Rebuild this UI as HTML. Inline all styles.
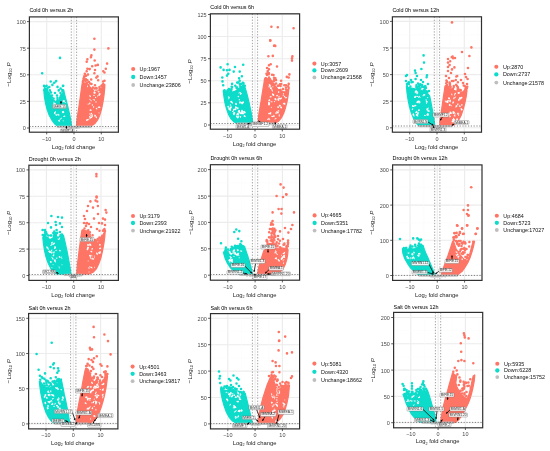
<!DOCTYPE html>
<html lang="en"><head><meta charset="utf-8"><title>Volcano plots</title>
<style>html,body{margin:0;padding:0;background:#fff}svg{display:block}</style></head>
<body>
<svg width="550" height="451" viewBox="0 0 550 451" font-family='"Liberation Sans", sans-serif'>
<rect width="550" height="451" fill="#fff"/>
<g>
<path d="M46.7 16.9V132.2M74 16.9V132.2M101.3 16.9V132.2M29.4 128H118.5M29.4 101.4H118.5M29.4 74.8H118.5M29.4 48.2H118.5M29.4 21.6H118.5" stroke="#ececec" stroke-width="1.1" fill="none"/>
<path d="M33 16.9V132.2M60.3 16.9V132.2M87.6 16.9V132.2M114.9 16.9V132.2M29.4 114.7H118.5M29.4 88.1H118.5M29.4 61.5H118.5M29.4 34.9H118.5" stroke="#fbfbfb" stroke-width="0.5" fill="none"/>
<path d="M73.1 127.4h0M73.2 127.5h0M70.7 127.6h0M77.9 127.5h0M77.6 127.6h0M75.4 127.6h0M68.2 127.2h0M75.7 127.4h0M68.1 126.8h0M70.9 127.4h0M75 127.7h0M75.8 127.4h0M75.1 127.5h0M71.7 126.8h0M75.9 127.1h0M71.8 127.3h0M72.8 127.6h0M76.2 127.6h0M72.4 127.2h0M72.2 127h0M71.2 127.6h0M75.5 126.9h0M74.1 127h0M66.9 127.5h0M73.6 127.3h0M75.7 127.7h0M68.9 127.3h0M76.3 127.2h0M79 127.5h0M74.4 127h0M76.1 127.4h0M72.4 127h0M70.6 127.4h0M78.5 126.6h0M68.9 127.6h0M79 127.4h0M67.3 126.3h0M75.2 127.3h0M70.1 127.2h0M77.8 127.6h0M74.8 127.5h0M79.5 127.4h0M75.8 127.4h0M68.5 127h0M77.3 127.4h0M67.1 127.4h0M76.9 126.7h0M73.3 127.1h0M69.4 126.8h0M75.9 127.6h0M75.1 127.3h0M74.4 127.1h0M71.7 127.5h0M77.6 127.7h0M70.9 127.2h0M79.1 127.5h0M69.2 127.6h0M73.5 127.5h0M78.9 127.1h0M78.4 127h0" stroke="#BEBEBE" stroke-width="2" stroke-linecap="round" fill="none"/>
<path d="M43.8 89.7L44.3 96.1L45.4 102.5L46.9 108.8L49.2 115.2L52 120.3L54.9 124.1L56.8 125.6L71.5 125.8L71.5 125L70.8 120.3L69.5 113.9L68 107.5L66.4 101.2L65.1 96.1L63.8 91L62.5 93.5L60.5 95L59 100L55 101.5L51.5 99L49.5 93L46 92Z" fill="#0DDCCA" stroke="#0DDCCA" stroke-width="1.2" stroke-linejoin="round"/>
<path d="M51.8 97.8h0M46.3 88.9h0M45.5 91.7h0M48.3 92.5h0M50.8 97.1h0M44.3 90.1h0M46.2 90.9h0M44.8 86.6h0M47.1 91.8h0M50.9 96h0M46.6 85.8h0M63.2 90.4h0M53.5 100.6h0M46.2 91h0M49.3 87h0M47.4 92.8h0M62.4 91.3h0M47.1 89.9h0M44.8 88.5h0M62.9 85.9h0M57.5 99.9h0M51.3 98.1h0" stroke="#0DDCCA" stroke-width="2.5" stroke-linecap="round" fill="none"/>
<path d="M60 57.9h0M42.2 73.2h0M50.7 81.5h0M56.2 81.1h0M54.3 82.7h0M52.4 84.9h0M44.1 85.9h0M63.2 85.7h0M47.7 87.8h0M57.5 86.9h0M60.6 88.5h0M45.4 90.4h0M49.8 90.4h0M58.7 90.4h0M62.5 90h0M55 93h0M57 95.5h0M60.5 93h0M52 95.5h0M53.5 98.5h0M57.5 98h0M51 92.5h0" stroke="#0DDCCA" stroke-width="2.6" stroke-linecap="round" fill="none"/>
<path d="M63.1 111.4h0M63.1 111.7h0M63.2 112h0M62.6 112h0M63.5 112.5h0M63 112.7h0M63.7 116.5h0M53.9 102.3h0M53.8 103.3h0M55.8 114.4h0M56.1 115.2h0M57.1 114.8h0M58 114.6h0M58.1 114.3h0M63.7 100.9h0M63.9 100.9h0M64.3 100.7h0M63.2 101.5h0M55.5 111.7h0M54.9 112.5h0M54.8 112.7h0M54.7 113.5h0M55.1 112.3h0M62.3 112h0M62.7 112.1h0M63.2 120.8h0M54.2 104.5h0M54.2 103.5h0M54.7 103.7h0M54.7 103.2h0M55.4 104.1h0M65.2 102.5h0M64.5 101.7h0M61.4 118.2h0M60.8 118.6h0M60.1 119.4h0M59.6 120.3h0M59.6 121.2h0M59 121.1h0M58.7 120.5h0" stroke="#fff" stroke-width="0.9" stroke-linecap="round" fill="none"/>
<path d="M63.6 112.2h0M64.6 116.3h0M56.6 115.1h0M58.8 115h0M63.3 101h0M63.8 101.4h0M63.7 101.5h0M54.7 113.6h0M54.6 112.9h0M53.5 104.4h0M55.1 103.7h0M63.8 101.2h0" stroke="#fff" stroke-width="1.4" stroke-linecap="round" fill="none"/>
<path d="M104.9 84.6L104.6 89.7L103.9 96.1L102.9 102.5L101.6 108.8L99.8 115.2L97.8 119.6L95 123.5L91.8 125.6L76.5 125.8L76.5 125L76.9 120.3L77.8 113.9L78.8 107.5L79.7 101.2L80.6 94.8L81.4 88.5L82.3 82.5L86 83L90 87L94 91L98 91L101 89L103 86Z" fill="#FE7566" stroke="#FE7566" stroke-width="1.2" stroke-linejoin="round"/>
<path d="M98.4 91.1h0M94.8 88.6h0M83.2 81.1h0M96.3 87.9h0M84.2 77.3h0M103.8 85.4h0M88.5 85.8h0M99.6 88.8h0M85.6 80.7h0M102.5 85.3h0M86 79.2h0M97.9 91h0M84 77.4h0M92 89.1h0M103.1 81.4h0M100.1 89.7h0M101.3 88.7h0M101.4 85.8h0M90.1 83.6h0M102.8 85.2h0M85.6 79.7h0M88 84.9h0M86.3 83.5h0M87.2 82.8h0" stroke="#FE7566" stroke-width="2.5" stroke-linecap="round" fill="none"/>
<path d="M94.4 38.8h0M94.4 49.6h0M108.4 48.4h0M91.4 55.4h0M90.9 57.3h0M87.4 59.2h0M86.7 61.7h0M94.7 60.5h0M107.1 63.6h0M95.6 65.5h0M97.8 64.9h0M92.2 66.2h0M87.4 68.7h0M89.7 69.1h0M105.8 68.7h0M95 70h0M86.7 71.3h0M103.3 71.3h0M104.5 72.5h0M94.4 73.2h0M84.8 73.8h0M88 74.5h0M84.2 76.4h0M86.1 75.7h0M97.5 76.4h0M96.3 77.6h0M91.2 79.5h0M98.2 80.2h0M104.5 80.8h0M87.4 80.2h0M83.5 78.9h0M82.9 81.5h0M103.3 84h0M95 85.3h0M102.6 85.9h0M103.9 87.2h0M89 82h0M91.5 84h0M93 87.5h0M85 80h0M99.5 87h0M96.5 88.5h0" stroke="#FE7566" stroke-width="2.6" stroke-linecap="round" fill="none"/>
<path d="M91.6 113.3h0M87.6 86.7h0M87.6 86h0M94.4 116h0M94.8 115.1h0M97.9 91h0M96.4 117.7h0M95.8 116.8h0M90.6 96.6h0M89.8 95.7h0M100.2 93.8h0M99.3 93.6h0M94.5 93.2h0M95 92.4h0M94.4 92.6h0M89.3 118.1h0M90 117.9h0M90.9 117.2h0M91.1 116.3h0M91.8 116.6h0M92.4 115.8h0M92.4 116.5h0M99.4 107h0M98.9 106.7h0M98.2 107.4h0M98.4 107.6h0M99 112.9h0M99.7 94.5h0M99.2 94.9h0M99.2 94.7h0M99.5 95.2h0M99.3 94.9h0M91 110.2h0M90.5 110.2h0M90.1 110.1h0M91 110.2h0M88.1 104.2h0M89 104h0M98.2 95.4h0M97.6 96.1h0M90.5 118.3h0M90.3 117.6h0M90.6 117.4h0M93.2 99.5h0M88.8 119.4h0M87.1 119.6h0M86.4 120.5h0M96.9 108.9h0M96.5 108.4h0M89.8 99.4h0M90.5 100.1h0M91.3 100.9h0" stroke="#fff" stroke-width="0.9" stroke-linecap="round" fill="none"/>
<path d="M91.5 113.7h0M95.3 115.7h0M98.8 91.7h0M96.4 117.2h0M90.1 96.1h0M94 92.8h0M99.7 107.4h0M99.7 94.4h0M99.4 93.9h0M90.3 110.1h0M89.8 103.2h0M87.9 119.8h0M87 120h0" stroke="#fff" stroke-width="1.4" stroke-linecap="round" fill="none"/>
<path d="M94.4 91h0M95 93h0M94 95.4h0M95.6 97.4h0M94.4 100h0M96 102h0M92.4 105h0M93.6 107h0M96.4 108.6h0M90 114h0M91 115.4h0M92.4 115h0M89.6 116.6h0M91.6 117.4h0" stroke="#fff" stroke-width="1.3" stroke-linecap="round" fill="none"/>
<path d="M57.8 126.8H90.8" stroke="#BEBEBE" stroke-width="2.3" stroke-linecap="round" opacity="0.92"/>
<path d="M71.3 16.9V132.2M76.6 16.9V132.2" stroke="#7a7a7a" stroke-width="0.7" stroke-dasharray="1.3 1.6" fill="none"/>
<path d="M29.4 126.5H118.5" stroke="#333" stroke-width="0.6" stroke-dasharray="1.2 1.6" fill="none"/>
<line x1="61" y1="104.4" x2="61" y2="101" stroke="#000" stroke-width="0.75"/>
<path d="M61 101L61.9 102.9L60.1 102.9Z" fill="#000"/>
<rect x="52.6" y="104.4" width="13.8" height="4.2" rx="0.6" fill="#fff" fill-opacity="0.95" stroke="#666" stroke-width="0.4"/>
<text x="59.5" y="107.5" font-size="3.2" text-anchor="middle" fill="#2b2b2b" textLength="12.2" lengthAdjust="spacingAndGlyphs">MtFIE.15</text>
<line x1="66.4" y1="129" x2="66.4" y2="126" stroke="#000" stroke-width="0.75"/>
<path d="M66.4 126L67.3 127.9L65.5 127.9Z" fill="#000"/>
<rect x="60.4" y="129" width="13.6" height="3.6" rx="0.6" fill="#fff" fill-opacity="0.95" stroke="#666" stroke-width="0.4"/>
<text x="67.2" y="131.9" font-size="3.2" text-anchor="middle" fill="#2b2b2b" textLength="12" lengthAdjust="spacingAndGlyphs">MtSWI1.A</text>
<rect x="29.4" y="16.9" width="89" height="115.3" fill="none" stroke="#303030" stroke-width="1.2"/>
<path d="M46.7 132.2v2.2M74 132.2v2.2M101.3 132.2v2.2M29.4 128h-2.4M29.4 101.4h-2.4M29.4 74.8h-2.4M29.4 48.2h-2.4M29.4 21.6h-2.4" stroke="#333" stroke-width="0.8" fill="none"/>
<g font-size="5.5" fill="#484848">
<text x="46.7" y="140.5" text-anchor="middle">−10</text><text x="74" y="140.5" text-anchor="middle">0</text><text x="101.3" y="140.5" text-anchor="middle">10</text><text x="25.8" y="130.4" text-anchor="end">0</text><text x="25.8" y="103.9" text-anchor="end">25</text><text x="25.8" y="77.2" text-anchor="end">50</text><text x="25.8" y="50.6" text-anchor="end">75</text><text x="25.8" y="24" text-anchor="end">100</text>
</g>
<text x="29.4" y="11.8" font-size="5.45" fill="#000">Cold 0h versus 2h</text>
<text x="73.5" y="148.6" font-size="5.85" fill="#222" text-anchor="middle">Log<tspan font-size="3.7" dy="1.2">2</tspan><tspan dy="-1.2"> fold change</tspan></text>
<text transform="translate(11.3 74.5) rotate(-90)" font-size="6.15" fill="#222" text-anchor="middle">−Log<tspan font-size="3.9" dy="0.8">10</tspan><tspan dy="-0.8" font-style="italic"> P</tspan></text>
<circle cx="133.2" cy="69" r="2.05" fill="#FE7566"/><text x="139.6" y="71" font-size="5.4" fill="#111">Up:1967</text>
<circle cx="133.2" cy="77" r="2.15" fill="#0DDCCA"/><text x="139.6" y="79" font-size="5.4" fill="#111">Down:1457</text>
<circle cx="133.2" cy="85" r="1.9" fill="#BEBEBE"/><text x="139.6" y="87" font-size="5.4" fill="#111">Unchange:23806</text>
</g>
<g>
<path d="M227.7 13.8V129.2M255 13.8V129.2M282.3 13.8V129.2M210.4 125H299.6M210.4 102.8H299.6M210.4 80.8H299.6M210.4 58.7H299.6M210.4 36.5H299.6M210.4 14.5H299.6" stroke="#ececec" stroke-width="1.1" fill="none"/>
<path d="M214.1 13.8V129.2M241.3 13.8V129.2M268.6 13.8V129.2M295.9 13.8V129.2M210.4 113.9H299.6M210.4 91.8H299.6M210.4 69.7H299.6M210.4 47.6H299.6M210.4 25.5H299.6" stroke="#fbfbfb" stroke-width="0.5" fill="none"/>
<path d="M254.8 124.5h0M254.6 124.1h0M255.1 123.9h0M254.8 124.5h0M256.6 124.5h0M251.8 124.6h0M253.3 123.8h0M257.7 124.6h0M253.4 124.3h0M251.7 124.5h0M256 124.4h0M257 123.5h0M252.5 124.6h0M264.8 123.6h0M253.2 124.6h0M255.5 124.4h0M254.2 124.5h0M255.2 124.2h0M248.4 124.2h0M255 124.1h0M251.3 124.3h0M252.7 124.3h0M257.6 124.5h0M256.8 124.6h0M250.1 124.6h0M256.6 124.4h0M254.7 124.2h0M251.9 124.3h0M261.5 124.4h0M255.5 124.6h0M260.4 124.5h0M258.1 124.3h0M254.9 124.6h0M248.8 123.9h0M258.1 123.7h0M257.6 124.6h0M256.6 124.5h0M249.8 124.5h0M260.2 124.3h0M251.4 123.9h0M250.7 124.5h0M260.9 124.4h0M255.9 123.4h0M253.2 124.3h0M256.8 124.4h0M251.5 124h0M256 124.5h0M250.4 124.5h0M253.1 124.4h0M254.6 124.6h0M253.8 124.1h0M259.9 124.5h0M258 124.2h0M255.3 124.2h0M260.3 124.4h0M254.7 124.5h0M249.8 124.6h0M252.6 124.4h0M251.1 123.6h0M255.1 124.5h0" stroke="#BEBEBE" stroke-width="2" stroke-linecap="round" fill="none"/>
<path d="M223.2 90.5L223.8 95.6L224.8 102L226.4 108.4L228.4 114.1L230.8 118.5L233.7 121.7L236.3 123L252.8 123.2L252.5 121.1L251.6 114.7L250.3 108.4L248.9 102L247.4 95.6L245.8 89.9L244.4 85.5L241 87L237 90L232 93L227 92Z" fill="#0DDCCA" stroke="#0DDCCA" stroke-width="1.2" stroke-linejoin="round"/>
<path d="M230.5 90h0M237.5 88.8h0M239.8 84.6h0M227.8 90.3h0M240.3 86.5h0M228.2 90.5h0M242.9 82.7h0M227.5 91.1h0M232.1 87h0M242.9 85.8h0M231.6 92h0M243.4 85.6h0M224.7 91.2h0M231.6 86.8h0M238.5 82.4h0M230.4 92h0M242.6 86.6h0M237.1 87.6h0M231.3 91h0M227.1 92.5h0M229.4 90.4h0M243 85.8h0M243.2 85.2h0" stroke="#0DDCCA" stroke-width="2.5" stroke-linecap="round" fill="none"/>
<path d="M220.6 67.4h0M227.6 64.2h0M235 67h0M243.2 64.8h0M223.6 69.9h0M227 70.3h0M229.5 69.9h0M233.7 71.6h0M239.7 71.6h0M228.3 73.7h0M227 75.6h0M241.9 76.3h0M222.3 77.5h0M239.1 78.2h0M222.5 81.4h0M239.7 80.7h0M237.2 82.6h0M232.1 83.9h0M241 83.9h0M243.5 83.3h0M223.2 85.2h0M235.3 85.8h0M244.8 85.8h0M228.9 89h0M231.5 89h0M236.5 87.7h0M242.3 88.4h0M224.5 90.3h0M227.6 90.9h0M239.1 90.9h0M234 92.2h0" stroke="#0DDCCA" stroke-width="2.6" stroke-linecap="round" fill="none"/>
<path d="M234.1 114.6h0M234.6 113.8h0M234.1 113.9h0M233.7 114.4h0M234 113.9h0M233.8 113.6h0M229.1 108.2h0M228.7 109.1h0M232.5 111.5h0M233.2 111.1h0M238.1 114.2h0M228.4 97h0M228.8 96.9h0M229.3 97.8h0M230.3 104.9h0M241.6 112.2h0M242.6 111.4h0M242.8 111.4h0M242.2 111.2h0M238.6 96.3h0M238.6 96.7h0M238.1 96.5h0M239.5 112.4h0M240 113h0M239.1 112h0M238.9 110.4h0M239 93h0M239.9 92.2h0M240.5 92.9h0M228.7 98.8h0M228.9 108h0M229 108.9h0M229.7 109.4h0M233.6 110.3h0M236.4 104.5h0M235.7 104.3h0M239.8 102.3h0M240.7 116.5h0M240.5 117.2h0M240.3 116.6h0M243.3 102.7h0M242.6 102.9h0M242.4 102.7h0M242.6 103.6h0M241.4 102.4h0M240.8 113.8h0M240.3 113h0M241.9 112.8h0M242.6 112.9h0M231.7 102h0M232.6 103h0M239.4 99.7h0M239.5 99.8h0M239.2 99.7h0M235.2 109.8h0M236.1 109.1h0M238.5 114.6h0M237.4 113.6h0M237.9 113.3h0M244.9 112h0M244.2 111.2h0M243.8 111.8h0M244.5 112.7h0M244.4 112.2h0M236.2 107.8h0M235.6 106.7h0M241.3 93.5h0M240.5 94.2h0M240.4 94.2h0M241.2 93.7h0M242.6 112.1h0M242.1 113.1h0M234.1 112.9h0M233.6 113.2h0M233.3 113.2h0M244.4 116.1h0M245.1 116.6h0M244.6 116.2h0M228.9 107h0M237.9 107.7h0M240 103.5h0M238.8 116.1h0M238.4 116.8h0M237.6 117.4h0M237.8 117.6h0M236.4 116h0M229.8 108.4h0M230.8 107.7h0M231.3 107h0M231 106.1h0M241.3 111.5h0" stroke="#fff" stroke-width="1.1" stroke-linecap="round" fill="none"/>
<path d="M234.4 112.8h0M242 111.5h0M242.2 111.3h0M242 110.5h0M239.6 112.5h0M238.6 111.5h0M239.3 110.9h0M229.7 108.8h0M230.2 109.7h0M230.3 109.9h0M230.1 109.2h0M233.8 109.5h0M236 103.5h0M240.1 102.1h0M243.1 102.1h0M242 103.3h0M241.1 113h0M242.1 113.4h0M243.2 113.5h0M231.1 101.7h0M231.9 102.3h0M235.2 109.1h0M237.9 114.5h0M237.3 114.4h0M237.2 114.4h0M237.9 113.6h0M244.2 112.3h0M244.8 112.5h0M236.2 107.4h0M235.9 107.5h0M244.5 115.9h0M244.5 116.1h0M228.2 106.7h0M237.7 108.3h0M237.8 117.5h0M236.9 116.7h0M230.6 107.7h0" stroke="#fff" stroke-width="1.7" stroke-linecap="round" fill="none"/>
<path d="M289.1 88L288.7 90.5L288.1 95.6L287.1 101.4L285.5 107.7L283.6 113.5L281.3 117.9L278.5 121.3L275.4 123L258.2 123.2L258.2 121.1L258.8 114.7L259.8 108.4L260.9 102L261.9 95.6L262.9 89.3L263.9 83.5L264.5 79.1L268 78.5L272 81L275 86L278 89.5L283 91.5L287 92Z" fill="#FE7566" stroke="#FE7566" stroke-width="1.2" stroke-linejoin="round"/>
<path d="M273.9 81.2h0M286.5 92h0M280.5 89.9h0M288.5 87.8h0M280.2 90.1h0M286 85.3h0M271.2 80.7h0M280 84.2h0M281.2 84h0M272 74.8h0M267 75h0M269 73.3h0M269.8 79.1h0M286.6 91.2h0M274.2 79.8h0M274 77.8h0M288.2 86.3h0M276.1 83.4h0M265.2 79.3h0M287.6 89.9h0M285.9 89.4h0M278.8 85.5h0M269 79.5h0M267.6 73.4h0M268.8 74.3h0M265.7 78.5h0M280.2 90.6h0" stroke="#FE7566" stroke-width="2.5" stroke-linecap="round" fill="none"/>
<path d="M270.3 40.6h0M274.1 45.7h0M275 45.7h0M268.4 56.3h0M272.8 55.9h0M270.7 64.2h0M269 65.2h0M277 66.5h0M267.1 68h0M269 69.3h0M267.7 71.2h0M268.4 73.3h0M266.5 73.7h0M273.5 75h0M289.4 74.4h0M286.8 76.9h0M288.7 77.5h0M269 77.5h0M275.4 78.2h0M265.8 78.2h0M276 80.1h0M281.1 80.7h0M288.7 83.9h0M274.7 84.5h0M284.3 85.2h0M277.9 85.8h0M283 89h0M276 87.7h0M278.5 90.3h0M292.4 56.4h0M292 58.4h0M292 60.6h0M286 87.5h0M280.5 86h0" stroke="#FE7566" stroke-width="2.6" stroke-linecap="round" fill="none"/>
<path d="M271.4 26.8h0M277.8 27.2h0M293.6 28.2h0M270.2 40.4h0M274.2 45.8h0M275.2 46h0" stroke="#FE7566" stroke-width="2.6" stroke-linecap="round" fill="none"/>
<path d="M269.2 84.8h0M269.3 84.5h0M270.6 86.1h0M269 86.2h0M269.2 86.9h0M272.9 86.8h0M281.5 107.6h0M272.4 93.7h0M272.8 94.6h0M273.5 94.3h0M268.8 104.5h0M269.5 103.7h0M269.3 103.6h0M271.1 101.8h0M272 101.8h0M270.7 114h0M270.2 113.3h0M270.7 113.3h0M270.8 112.5h0M270.1 113.4h0M280.7 99h0M280.5 98.5h0M281.2 97.9h0M281.3 98.4h0M279 96.2h0M279 97h0M277.4 95.3h0M277.3 95.8h0M276.6 95.8h0M272 90.3h0M272.5 90.9h0M280.3 105.9h0M269.7 119.6h0M271.3 88.7h0M271.9 89.2h0M271.3 107.2h0M272.8 116.6h0M271.9 116.4h0M272.3 116.4h0M278.3 98.4h0M277.8 99.1h0M278 99.4h0M278.3 99.7h0M271.1 87.7h0M270.6 88.5h0M278.7 92.5h0M278.7 91.5h0M278.7 91.9h0M283.2 95.5h0M274.6 101.6h0M268.6 103.6h0M273.9 115.2h0M274 115.6h0M274.2 116.3h0M275 119h0M275.9 118.4h0M278.4 107.2h0M275.1 99h0M275.1 98.9h0M275.9 99.9h0M275.9 99.3h0M269.2 113.3h0M284.4 96.4h0M285 97h0M285.9 97.5h0M286.4 97.5h0M285.9 97.9h0M276.2 113.6h0M275.8 113.1h0M275.8 113h0M276 112.7h0M276.7 111.8h0M268.2 119.2h0M267.8 119.4h0M268.5 118.8h0M269 118.2h0M269 118.4h0M283.3 103.8h0M283.9 103.2h0M284 103.7h0M284.2 103.1h0M269 100.7h0M278.2 110.9h0M278.8 110.9h0M279.3 114.9h0M279.2 115.9h0M271.1 96.7h0M270.2 96.9h0M271 96.6h0M271 96.5h0M270.2 97h0M273.8 115.7h0M273.5 116.3h0M283.5 93.8h0M283.4 93.9h0" stroke="#fff" stroke-width="1.1" stroke-linecap="round" fill="none"/>
<path d="M269.9 85.3h0M269.8 85.5h0M281.1 107.4h0M273 94.5h0M273.5 95.1h0M268.9 102.7h0M269.3 103.7h0M279.8 98.5h0M279.7 105.6h0M278.5 99.9h0M270.7 88h0M269 104.6h0M278 107h0M275.4 99.1h0M269.1 113.5h0M277.4 112.4h0M278 112.6h0M284.7 103.8h0M269.4 100.2h0" stroke="#fff" stroke-width="1.7" stroke-linecap="round" fill="none"/>
<path d="M237.3 123.7H274.4" stroke="#BEBEBE" stroke-width="2.3" stroke-linecap="round" opacity="0.92"/>
<path d="M252.4 13.8V129.2M257.6 13.8V129.2" stroke="#7a7a7a" stroke-width="0.7" stroke-dasharray="1.3 1.6" fill="none"/>
<path d="M210.4 123.5H299.6" stroke="#333" stroke-width="0.6" stroke-dasharray="1.2 1.6" fill="none"/>
<line x1="247.6" y1="124.8" x2="249.6" y2="122.8" stroke="#000" stroke-width="0.75"/>
<path d="M249.6 122.8L248.9 124.8L247.6 123.5Z" fill="#000"/>
<rect x="236" y="124.8" width="14" height="3.6" rx="0.6" fill="#fff" fill-opacity="0.95" stroke="#666" stroke-width="0.4"/>
<text x="243" y="127.6" font-size="3.2" text-anchor="middle" fill="#2b2b2b" textLength="12.4" lengthAdjust="spacingAndGlyphs">MtSWI1.A</text>
<line x1="275.6" y1="124.8" x2="275" y2="122.2" stroke="#000" stroke-width="0.75"/>
<path d="M275 122.2L276.3 123.8L274.6 124.3Z" fill="#000"/>
<rect x="272.4" y="124.8" width="14.6" height="3.6" rx="0.6" fill="#fff" fill-opacity="0.95" stroke="#666" stroke-width="0.4"/>
<text x="279.7" y="127.6" font-size="3.2" text-anchor="middle" fill="#2b2b2b" textLength="13" lengthAdjust="spacingAndGlyphs">MtMEA.1</text>
<line x1="260" y1="122" x2="258.4" y2="120.8" stroke="#000" stroke-width="0.75"/>
<path d="M258.4 120.8L260.5 121.2L259.4 122.7Z" fill="#000"/>
<rect x="251.6" y="122" width="17.4" height="4.4" rx="0.6" fill="#fff" fill-opacity="0.95" stroke="#666" stroke-width="0.4"/>
<text x="260.3" y="125.2" font-size="3.2" text-anchor="middle" fill="#2b2b2b" textLength="15.8" lengthAdjust="spacingAndGlyphs">MtEMF1.2</text>
<rect x="210.4" y="13.8" width="89.2" height="115.4" fill="none" stroke="#303030" stroke-width="1.2"/>
<path d="M227.7 129.2v2.2M255 129.2v2.2M282.3 129.2v2.2M210.4 125h-2.4M210.4 102.8h-2.4M210.4 80.8h-2.4M210.4 58.7h-2.4M210.4 36.5h-2.4M210.4 14.5h-2.4" stroke="#333" stroke-width="0.8" fill="none"/>
<g font-size="5.5" fill="#484848">
<text x="227.7" y="137.5" text-anchor="middle">−10</text><text x="255" y="137.5" text-anchor="middle">0</text><text x="282.3" y="137.5" text-anchor="middle">10</text><text x="206.7" y="127.4" text-anchor="end">0</text><text x="206.7" y="105.3" text-anchor="end">25</text><text x="206.7" y="83.2" text-anchor="end">50</text><text x="206.7" y="61.1" text-anchor="end">75</text><text x="206.7" y="39" text-anchor="end">100</text><text x="206.7" y="16.9" text-anchor="end">125</text>
</g>
<text x="210.3" y="8.7" font-size="5.45" fill="#000">Cold 0h versus 6h</text>
<text x="254.5" y="145.6" font-size="5.85" fill="#222" text-anchor="middle">Log<tspan font-size="3.7" dy="1.2">2</tspan><tspan dy="-1.2"> fold change</tspan></text>
<text transform="translate(192.3 71.5) rotate(-90)" font-size="6.15" fill="#222" text-anchor="middle">−Log<tspan font-size="3.9" dy="0.8">10</tspan><tspan dy="-0.8" font-style="italic"> P</tspan></text>
<circle cx="314.4" cy="63.6" r="2.05" fill="#FE7566"/><text x="320.8" y="65.5" font-size="5.4" fill="#111">Up:3057</text>
<circle cx="314.4" cy="70.4" r="2.15" fill="#0DDCCA"/><text x="320.8" y="72.4" font-size="5.4" fill="#111">Down:2609</text>
<circle cx="314.4" cy="77.4" r="1.9" fill="#BEBEBE"/><text x="320.8" y="79.4" font-size="5.4" fill="#111">Unchange:21568</text>
</g>
<g>
<path d="M409.7 16.8V132.2M437 16.8V132.2M464.3 16.8V132.2M392.4 127.8H481.5M392.4 101.2H481.5M392.4 74.6H481.5M392.4 48H481.5M392.4 21.4H481.5" stroke="#ececec" stroke-width="1.1" fill="none"/>
<path d="M396 16.8V132.2M423.3 16.8V132.2M450.6 16.8V132.2M477.9 16.8V132.2M392.4 114.5H481.5M392.4 87.9H481.5M392.4 61.3H481.5M392.4 34.7H481.5" stroke="#fbfbfb" stroke-width="0.5" fill="none"/>
<path d="M435.2 126.2h0M433.6 126.8h0M436.4 126.6h0M442 127.1h0M437.8 126.7h0M435.8 126.8h0M432.7 126.8h0M437.2 127h0M435.7 126.1h0M435.9 127.2h0M436.9 127.1h0M439.9 126.1h0M433 126.7h0M438.8 126.1h0M433.3 126.7h0M433.2 126.6h0M432.6 126.7h0M438.2 126.4h0M431.3 127h0M438.8 127h0M442.8 127h0M441.4 126.8h0M432.6 126.5h0M438 126.5h0M436.8 126.7h0M434.3 127h0M432.4 126.9h0M438 127.1h0M436.1 127.1h0M441.7 126.5h0M430 126.6h0M436.4 127.2h0M433.4 126.7h0M446.1 126.6h0M433.4 127.1h0M441 126.7h0M437.4 126.9h0M437.3 127.2h0M436.3 126.9h0M438.4 127.2h0M438.2 127h0M442.5 127.1h0M437.3 126.3h0M437.4 127h0M437.8 126.4h0M440.5 126.5h0M441.2 126.8h0M436 126.6h0M439.4 127h0M442.4 127h0M437.6 127.2h0M433.2 126.4h0M439.6 127h0M436.7 126.9h0M439.6 126.7h0M440.1 127h0M433.6 126.9h0M436.1 126.9h0M437.9 126.7h0M434 126.6h0" stroke="#BEBEBE" stroke-width="2" stroke-linecap="round" fill="none"/>
<path d="M406.5 87.2L407.1 93.5L408.1 99.9L409.4 106.3L411.2 112.6L413.5 118.4L416 122.8L418.5 125.4L434.8 125.6L434.5 122.8L433.6 116.5L432.3 109.5L431 102.5L429.7 96.1L428 94L425 92L420 89.8L415 88.8L410 87.8Z" fill="#0DDCCA" stroke="#0DDCCA" stroke-width="1.2" stroke-linejoin="round"/>
<path d="M416.3 87.1h0M424.5 86.4h0M419.6 88.5h0M408.3 82.7h0M425.4 90.7h0M420.4 84.3h0M420.3 88.6h0M416.5 86.8h0M422.2 86.7h0M426.9 91.6h0M407 86.3h0M416.4 85.2h0M425.1 92.3h0M425.5 86.3h0M419.7 88.6h0M425.9 88h0M427.3 91.9h0M408.9 84.1h0M424.7 91.3h0M423.7 90.2h0M420.5 84.8h0M417.3 88.6h0M412.7 81.9h0M424.6 89.2h0M408.9 82.3h0" stroke="#0DDCCA" stroke-width="2.5" stroke-linecap="round" fill="none"/>
<path d="M411.4 82.2h0M426.6 77.2h0M418 83.6h0M419.6 86.5h0M410.4 86.6h0M422.1 85h0M419 84.5h0M417.9 86.8h0M407 75.1h0" stroke="#0DDCCA" stroke-width="2.5" stroke-linecap="round" fill="none"/>
<path d="M423.6 55.4h0M424 62.6h0M421.4 69h0M415 70.6h0M415.6 73h0M406 76h0M417 76h0M427 75.4h0M411 80h0M415.6 79h0M406 81h0M421 80h0M428 84h0M423 82h0M407 84h0M424 87h0M429 91h0" stroke="#0DDCCA" stroke-width="2.6" stroke-linecap="round" fill="none"/>
<path d="M417.7 92.9h0M417.7 92h0M416.8 91.6h0M416.1 91h0M427.7 97.6h0M428 110.7h0M428.2 110h0M427.9 111h0M427.1 110h0M427.5 110h0M428.2 110.7h0M416.7 96.3h0M428.2 108.1h0M427.6 108.8h0M428 115.4h0M427.2 114.4h0M428 113.9h0M428.4 114.5h0M427.2 114.6h0M427.1 114.9h0M426.8 114.7h0M417.8 101.9h0M418.4 101.1h0M418.9 101.1h0M419.5 101.3h0M417.1 112.2h0M416.4 112h0M416.8 111.3h0M427 101.9h0M415.9 112.7h0M419.2 103h0M420.1 102.1h0M423 95.7h0M423.6 94.9h0M415.3 96.4h0M415.3 96.8h0M417.1 93.8h0M425.2 115.5h0M424.6 115.3h0M414.9 105.4h0M414.2 106.2h0M413.4 106.4h0M413 105.8h0M413.4 106.5h0M412.8 105.6h0M413.2 105.7h0M426.6 103.3h0M418.4 110.6h0M426 99.9h0M426.3 100.1h0M417.4 115.2h0M417.2 115.7h0M417.9 115.9h0M416.2 92.9h0M416.2 92.9h0M416.3 92h0M412.7 108.9h0M412.3 109.5h0M419.4 96.4h0M418.6 97.2h0M417.8 96.4h0M420 97.5h0M413.2 113.9h0M414.1 116h0M418.6 112.7h0M417.5 113.4h0M417.9 114.1h0" stroke="#fff" stroke-width="1.1" stroke-linecap="round" fill="none"/>
<path d="M416.2 91.2h0M428.9 111.1h0M427.2 109.2h0M427.7 114.1h0M417.2 102.3h0M417.6 101.7h0M419 101.9h0M426.6 101.7h0M416.4 112.2h0M424.5 94.8h0M414.9 97.2h0M415.5 105.5h0M412.7 106h0M419 110.1h0M416.6 114.9h0M415.8 91.3h0M415.4 92h0M413.4 114.6h0M413.5 115.1h0M417.7 113.6h0" stroke="#fff" stroke-width="1.7" stroke-linecap="round" fill="none"/>
<path d="M466.9 91L466.3 96.1L465 102.5L463.3 108.8L461.2 115.2L458.6 120.3L455.5 123.8L452.3 125.6L439.8 125.8L439.8 122.8L440.6 116.5L441.6 109.5L442.6 102.5L443.5 96.1L444.3 91L444.9 87.2L448 87.5L452 89.5L457 91.5L462 92L465 91Z" fill="#FE7566" stroke="#FE7566" stroke-width="1.2" stroke-linejoin="round"/>
<path d="M466.1 89.2h0M453.8 85.9h0M452.2 89.2h0M459.7 89.7h0M463.7 85.6h0M445.6 87.1h0M449.3 86.4h0M449.6 82.4h0M450.1 85.9h0M453.7 87.3h0M446.4 80.5h0M446.2 83.2h0M464.7 85.9h0M458.6 91.9h0M447.5 87.2h0M445.7 86.2h0M446.2 87.1h0M452.7 89.2h0M446.7 81h0M464.3 91.2h0M457.8 88.8h0M456.1 84.8h0M457.5 90.2h0M460.9 90.2h0" stroke="#FE7566" stroke-width="2.5" stroke-linecap="round" fill="none"/>
<path d="M455.8 80h0M450.6 86.9h0M457.9 87.3h0M465.6 88.4h0M456.3 76.6h0M446.3 87.9h0M449.8 83.7h0M467.3 86.8h0M466.3 90.3h0M466.9 88h0M452.9 88.9h0M465.3 89.6h0M446.9 91.4h0M457.9 82.2h0M453.4 81h0M457.2 76.1h0M450.2 61.2h0M451.7 57.2h0M453.1 58.2h0" stroke="#FE7566" stroke-width="2.5" stroke-linecap="round" fill="none"/>
<path d="M471.4 47.4h0M462 52h0M469.4 56h0M452.6 56.6h0M455 58h0M448 59h0M448 62.6h0M449.6 65h0M448 67h0M454.4 67.4h0M452 69.4h0M468 68h0M448 71h0M451 73h0M465 74h0M446 76h0M449 78h0M466 77h0M467.6 79h0M461 80h0M452 81h0M447 82h0M463 83h0M467 84h0M450 84h0M457 86h0M466 87h0M447 85h0" stroke="#FE7566" stroke-width="2.6" stroke-linecap="round" fill="none"/>
<path d="M452 22.4h0" stroke="#FE7566" stroke-width="2.6" stroke-linecap="round" fill="none"/>
<path d="M454.7 113h0M455 113.3h0M461.1 108.5h0M461.8 109.4h0M461.4 109.6h0M454.4 122.8h0M454.2 123.4h0M457.7 104.4h0M458.1 104h0M457.8 104h0M458.4 93.2h0M459 93.2h0M459.3 92.6h0M451.3 105.8h0M448.4 100.7h0M448 100.8h0M448.3 100.6h0M459.6 105.9h0M459.4 106.1h0M460.2 106.4h0M449.6 104.2h0M449.3 104.9h0M457.4 113.7h0M458 113.1h0M458.8 113.7h0M458.1 114.5h0M458.7 115.5h0M454.7 97.7h0M455.3 97.1h0M454.6 94.8h0M454.8 94.5h0M455 93.6h0M455.5 93.2h0M448.1 102.1h0M446.8 101.7h0M447.4 102.5h0M446.8 101.9h0M446.1 101.9h0M445.3 101.1h0M455.8 107h0M456.9 105.8h0M453.7 98.1h0M453.9 98.8h0M449 98.7h0M448.8 97.9h0M449 98.8h0M453 120h0M454 121.1h0M453.8 120.9h0M462.1 104.9h0M461.4 104.9h0M454.5 95h0M454.8 120.4h0M453.8 118.8h0M453.5 118.2h0M449.5 101.1h0M450 101.2h0M450.5 100.7h0M450 100.5h0M450.2 100.1h0M449.6 100.8h0M450.4 101.8h0M455 122.7h0M455.3 122.2h0M455.3 121.7h0M454.2 112.7h0M453.5 111.8h0M460.1 98.8h0M460.2 97.8h0M460.9 98.4h0M448.5 113.4h0M449.2 114.1h0M448.6 114.5h0M451.5 113.3h0M453 112.1h0M453.1 111.6h0M456.3 120.8h0M456.9 120.1h0M449.8 116.7h0M450.3 116.4h0M454.7 115.3h0M454.9 114.8h0M454.6 115.7h0M454.3 115.7h0M454.9 115.9h0M458.8 99.2h0M459.3 99.1h0M459.9 98.6h0M460.7 98.9h0M452 94.8h0M451.7 94h0M450.2 113.6h0M450.5 113h0M453.6 102h0M453 102.1h0M453.5 102.2h0M453 102.5h0M452.9 103.1h0" stroke="#fff" stroke-width="1.1" stroke-linecap="round" fill="none"/>
<path d="M461.7 109.5h0M461.6 109.6h0M458.4 92.8h0M458.6 93h0M449.9 105.1h0M447.3 101.2h0M456.4 106.1h0M449.2 98.3h0M453 119.8h0M453.7 120.8h0M453 121.6h0M452.4 121.4h0M454.3 119.8h0M454.6 122.9h0M453.9 112.3h0M453.3 113.1h0M459.8 98.2h0M461.6 97.6h0M448.8 114.2h0M449 114.9h0M450.7 112.6h0M450.3 112.4h0M456.7 120.5h0M457.1 119.2h0M458.8 100h0M450.5 113.1h0" stroke="#fff" stroke-width="1.7" stroke-linecap="round" fill="none"/>
<path d="M419.5 126.2H451.3" stroke="#BEBEBE" stroke-width="2.3" stroke-linecap="round" opacity="0.92"/>
<path d="M434.3 16.8V132.2M439.6 16.8V132.2" stroke="#7a7a7a" stroke-width="0.7" stroke-dasharray="1.3 1.6" fill="none"/>
<path d="M392.4 126H481.5" stroke="#333" stroke-width="0.6" stroke-dasharray="1.2 1.6" fill="none"/>
<line x1="442.4" y1="117" x2="440" y2="120.6" stroke="#000" stroke-width="0.75"/>
<path d="M440 120.6L440.3 118.5L441.8 119.5Z" fill="#000"/>
<rect x="433" y="113" width="15.6" height="4" rx="0.6" fill="#fff" fill-opacity="0.95" stroke="#666" stroke-width="0.4"/>
<text x="440.8" y="116" font-size="3.2" text-anchor="middle" fill="#2b2b2b" textLength="14" lengthAdjust="spacingAndGlyphs">MtEMF1.2</text>
<line x1="428" y1="122" x2="433.6" y2="125.4" stroke="#000" stroke-width="0.75"/>
<path d="M433.6 125.4L431.5 125.2L432.4 123.6Z" fill="#000"/>
<rect x="413" y="119.6" width="15" height="3.8" rx="0.6" fill="#fff" fill-opacity="0.95" stroke="#666" stroke-width="0.4"/>
<text x="420.5" y="122.5" font-size="3.2" text-anchor="middle" fill="#2b2b2b" textLength="13.4" lengthAdjust="spacingAndGlyphs">MtVRN1.N</text>
<line x1="454.8" y1="123.4" x2="452" y2="125.4" stroke="#000" stroke-width="0.75"/>
<path d="M452 125.4L453 123.6L454.1 125Z" fill="#000"/>
<rect x="454.4" y="120.6" width="14.6" height="3.6" rx="0.6" fill="#fff" fill-opacity="0.95" stroke="#666" stroke-width="0.4"/>
<text x="461.7" y="123.5" font-size="3.2" text-anchor="middle" fill="#2b2b2b" textLength="13" lengthAdjust="spacingAndGlyphs">MtMEA.1</text>
<line x1="433.6" y1="128" x2="433.6" y2="126" stroke="#000" stroke-width="0.75"/>
<path d="M433.6 126L434.5 127.9L432.7 127.9Z" fill="#000"/>
<rect x="430" y="128" width="16" height="4" rx="0.6" fill="#fff" fill-opacity="0.95" stroke="#666" stroke-width="0.4"/>
<text x="438" y="131.1" font-size="3.2" text-anchor="middle" fill="#2b2b2b" textLength="14.4" lengthAdjust="spacingAndGlyphs">MtVRN1.3</text>
<rect x="392.4" y="16.8" width="89.1" height="115.4" fill="none" stroke="#303030" stroke-width="1.2"/>
<path d="M409.7 132.2v2.2M437 132.2v2.2M464.3 132.2v2.2M392.4 127.8h-2.4M392.4 101.2h-2.4M392.4 74.6h-2.4M392.4 48h-2.4M392.4 21.4h-2.4" stroke="#333" stroke-width="0.8" fill="none"/>
<g font-size="5.5" fill="#484848">
<text x="409.7" y="140.5" text-anchor="middle">−10</text><text x="437" y="140.5" text-anchor="middle">0</text><text x="464.3" y="140.5" text-anchor="middle">10</text><text x="388.8" y="130.3" text-anchor="end">0</text><text x="388.8" y="103.7" text-anchor="end">25</text><text x="388.8" y="77.1" text-anchor="end">50</text><text x="388.8" y="50.5" text-anchor="end">75</text><text x="388.8" y="23.9" text-anchor="end">100</text>
</g>
<text x="392.4" y="12" font-size="5.45" fill="#000">Cold 0h versus 12h</text>
<text x="436.5" y="148.6" font-size="5.85" fill="#222" text-anchor="middle">Log<tspan font-size="3.7" dy="1.2">2</tspan><tspan dy="-1.2"> fold change</tspan></text>
<text transform="translate(374.3 74.5) rotate(-90)" font-size="6.15" fill="#222" text-anchor="middle">−Log<tspan font-size="3.9" dy="0.8">10</tspan><tspan dy="-0.8" font-style="italic"> P</tspan></text>
<circle cx="496.3" cy="66.7" r="2.05" fill="#FE7566"/><text x="502.9" y="68.7" font-size="5.4" fill="#111">Up:2870</text>
<circle cx="496.3" cy="74.4" r="2.15" fill="#0DDCCA"/><text x="502.9" y="76.4" font-size="5.4" fill="#111">Down:2737</text>
<circle cx="496.3" cy="82.6" r="1.9" fill="#BEBEBE"/><text x="502.9" y="84.5" font-size="5.4" fill="#111">Unchange:21578</text>
</g>
<g>
<path d="M46.4 165.2V280.4M73.7 165.2V280.4M101 165.2V280.4M28.9 275.5H118.4M28.9 249.1H118.4M28.9 222.7H118.4M28.9 196.3H118.4M28.9 169.9H118.4" stroke="#ececec" stroke-width="1.1" fill="none"/>
<path d="M32.7 165.2V280.4M60 165.2V280.4M87.3 165.2V280.4M114.6 165.2V280.4M28.9 262.3H118.4M28.9 235.9H118.4M28.9 209.5H118.4M28.9 183.1H118.4" stroke="#fbfbfb" stroke-width="0.5" fill="none"/>
<path d="M75.8 275.4h0M72.1 275.4h0M76.3 275.5h0M75.4 274.9h0M72 275.6h0M71.9 275.2h0M72.3 275.5h0M74.1 275.7h0M79.5 275.7h0M78.4 275.3h0M78.1 275.6h0M76.8 275.3h0M71.6 275.6h0M73.2 275.7h0M78 275.3h0M68 274.8h0M72.1 275.4h0M73.7 275.4h0M79.6 275.5h0M75.2 275.3h0M75.6 275h0M78.2 274.7h0M76.7 274.9h0M76.4 274.9h0M72.6 275.4h0M75 275.3h0M70.7 275.2h0M69.2 275h0M73.7 275.5h0M69.2 275.4h0M76 274.9h0M80.6 275h0M69.5 275.7h0M75.3 275.3h0M72.4 275.6h0M72.9 275.4h0M65 275.2h0M74.5 275.6h0M71.5 275.6h0M73.6 275.7h0M77.4 274.8h0M74.5 275.1h0M72.6 274.9h0M70 275.6h0M71.7 275.2h0M70.4 274.8h0M75.4 275.5h0M72.6 275.1h0M70.7 275.5h0M74.1 275.5h0M71.9 275.2h0M81.2 275.5h0M79.9 274.6h0M78.4 275.5h0M74.1 275.5h0M71.5 275h0M72.3 275h0M77.5 275.5h0M71.9 275.3h0M69.6 274.8h0" stroke="#BEBEBE" stroke-width="2" stroke-linecap="round" fill="none"/>
<path d="M42.8 237.7L43.5 244.1L44.5 250.5L46 256.8L48.2 263.2L51.1 268.9L54.3 272.7L56.8 274L70.8 274.2L70.6 270.8L69.5 264.5L68.3 257.5L66.9 250.5L65.5 244.1L64.2 238.4L63.2 235.2L61.5 236L59.5 241.5L57.5 241L56 233.5L54.5 232.5L53 238L50 239.5L46 237Z" fill="#0DDCCA" stroke="#0DDCCA" stroke-width="1.2" stroke-linejoin="round"/>
<path d="M43.8 236.9h0M56.5 233.4h0M45 232.3h0M50.5 235.4h0M51.4 235.5h0M54.3 231.4h0M45.5 236.6h0M60.6 235.1h0M45.5 235.7h0M45.1 233.9h0M48.2 235.5h0M54 233.4h0M54.4 232.7h0M53.3 233.1h0M44.9 235.1h0M44.7 234.9h0M60.1 236.5h0M57.2 232.7h0M45.5 232.2h0M45.3 234.7h0M46.6 233.7h0M58.3 241h0" stroke="#0DDCCA" stroke-width="2.5" stroke-linecap="round" fill="none"/>
<path d="M59.5 240.9h0M47.6 238.1h0M42.7 234.9h0M47.1 239h0M58 237.4h0M61.9 234.5h0M61.6 235.4h0M46.1 232.3h0" stroke="#0DDCCA" stroke-width="2.5" stroke-linecap="round" fill="none"/>
<path d="M51.4 216h0M58 217h0M62 217.6h0M48 223h0M55.6 222h0M60 223.4h0M56 225h0M51 227.4h0M62 227h0M42.6 230h0M45 230h0M56.6 230h0M43.6 235h0M55 233h0M60 232h0M63 236h0" stroke="#0DDCCA" stroke-width="2.6" stroke-linecap="round" fill="none"/>
<path d="M51.5 262.1h0M50.7 261.7h0M50.7 262.3h0M50.4 261.9h0M49.8 251.9h0M49.7 252.5h0M49.6 250.9h0M49.2 251.3h0M55 260.2h0M55.4 260.1h0M54.8 261.1h0M55.4 262h0M55.3 261.5h0M54.6 252h0M54.1 252.8h0M53.3 252.2h0M53.2 252.3h0M51.8 243.1h0M52.4 242.8h0M52.8 242.1h0M51.8 257.3h0M52.7 258.9h0M53.2 259.1h0M51.9 250h0M50.7 251.6h0M51.1 252.7h0M51.5 253h0M52 253h0M59.7 267.9h0M59 266.9h0M53.5 254.1h0M54 255h0M53.5 255.8h0M46.9 247.8h0M55.8 250.6h0M56.7 250.3h0M53.1 264.7h0M60.2 251h0M48.5 249.7h0M47.6 248.8h0M48.3 248.4h0M59.8 257.4h0M59.2 256.8h0M59.8 257h0M59.3 256.7h0M59.6 256.5h0M51.5 244.4h0M52 243.6h0M52.5 244.6h0M62 264.8h0M61.7 257.1h0M60.9 257.3h0M51.3 245.3h0M50.8 245.4h0M51.8 252h0M51.9 252.2h0M57 258h0M56.6 258.3h0M53.9 243.8h0M53.6 244.3h0M53.5 243.9h0M54.2 243.5h0M51.9 267.7h0M61.9 258.6h0M55.3 247.5h0" stroke="#fff" stroke-width="0.9" stroke-linecap="round" fill="none"/>
<path d="M50.7 261.6h0M49 251.6h0M54.6 260.1h0M54.6 260.8h0M51.7 242.6h0M52.6 258.3h0M51.4 250.6h0M50.4 252.3h0M53.3 255.4h0M59.8 250.5h0M47.6 247.8h0M46.9 246.9h0M54.3 243.2h0M55 246.8h0M55.4 247.7h0M54.6 248.2h0" stroke="#fff" stroke-width="1.4" stroke-linecap="round" fill="none"/>
<path d="M105.3 230.1L104.8 236.5L103.9 243.5L102.6 250.5L101 257.5L98.8 263.8L96.3 268.9L93.1 272.3L89.3 274L76.8 274.2L76.8 272.1L77.3 265.7L78.1 258.7L79 251.7L79.9 244.7L80.7 238.4L81.5 232.6L82 230.1L85 230.5L88 232L91 237L95 242L98 243L101 241L103 235Z" fill="#FE7566" stroke="#FE7566" stroke-width="1.2" stroke-linejoin="round"/>
<path d="M104.4 229h0M96.7 241h0M100.4 238.9h0M89.7 234.6h0M98.9 242.6h0M96.9 240.6h0M101.8 238.9h0M95.1 239.9h0M103 230.8h0M87.5 230.8h0M88.3 230.2h0M87.7 231.2h0M99.4 237.4h0M89.2 232.8h0M95.2 241.7h0M101.7 237.3h0M99.3 240.5h0M89.9 232.3h0M102.4 236.5h0M97.7 238.9h0M92.6 235.2h0M102.2 236.8h0M102.2 235.7h0M99.9 240.9h0M101.8 237h0" stroke="#FE7566" stroke-width="2.5" stroke-linecap="round" fill="none"/>
<path d="M83 230.6h0M105 231h0M103.5 230.3h0M99.5 230.7h0M86.3 223.4h0M84.5 228.5h0M97.9 206h0M97.3 201.4h0" stroke="#FE7566" stroke-width="2.5" stroke-linecap="round" fill="none"/>
<path d="M96.6 196.6h0M90.4 201.4h0M95.6 200.6h0M88 206h0M93 207.6h0M87 211h0M105.6 210h0M106.4 212.6h0M98 214h0M84 216h0M85 219h0M94 218.6h0M103 218.6h0M105 219.6h0M87 223h0M89 224h0M99 223h0M102 223.4h0M105 225h0M91 227h0M97 229h0M86 226h0M84 223h0" stroke="#FE7566" stroke-width="2.6" stroke-linecap="round" fill="none"/>
<path d="M96.4 174h0M96.4 176.2h0M96.6 197.4h0" stroke="#FE7566" stroke-width="2.6" stroke-linecap="round" fill="none"/>
<path d="M87.5 249.8h0M87.9 249h0M88.3 248.1h0M87.5 247.3h0M87.8 247.4h0M94.4 267.3h0M91.9 249.2h0M90.7 245h0M89.8 244.4h0M90.2 244.4h0M90.3 244.8h0M91 245.2h0M90.6 245.1h0M90.4 244.8h0M89 272h0M90.3 257.5h0M90.7 258h0M88.2 261h0M99.7 244.4h0M99.8 244.8h0M100.1 244.7h0M100.1 245h0M99.8 245.1h0M99.2 253.3h0M92.5 258.3h0M93.3 259.2h0M93.8 258.8h0M99 253.1h0M99.7 252.6h0M89.4 266.8h0M88.8 267.7h0M89.1 268.6h0M92.1 268h0M90.7 267.1h0M94.3 256.1h0M90.9 251.4h0M91.2 251.3h0M96.5 253.6h0M96.8 253.9h0M97.4 253.4h0M96.5 252.9h0M91.3 258.8h0M90.9 258.3h0M94.4 257.3h0M89.8 255.3h0M89.4 255.8h0M90.3 256.5h0M91.1 255.3h0M92 256h0M87.9 248.9h0M87.1 249.4h0M87.2 249.4h0M87.6 248.4h0M87.6 248.4h0M87.4 248.3h0M87.3 248.3h0M97.4 254.6h0M100 251.5h0M90.1 245.2h0M89.2 245.2h0M88.7 245.1h0M88.2 244.8h0M88.3 245.3h0M100.8 248.4h0M100.3 247.9h0M99.9 248.6h0" stroke="#fff" stroke-width="0.9" stroke-linecap="round" fill="none"/>
<path d="M87.7 248.8h0M88.3 247.4h0M92.3 248.8h0M89.9 244.1h0M92.8 258.9h0M99 252.5h0M99.8 253.2h0M91.4 267.4h0M91.7 251.8h0M89.8 255.6h0M90.5 256h0M100.4 252.1h0M87.6 245.1h0M87.8 244.8h0M99.9 248.5h0" stroke="#fff" stroke-width="1.4" stroke-linecap="round" fill="none"/>
<path d="M65.2 274.8H82.3" stroke="#BEBEBE" stroke-width="2.3" stroke-linecap="round" opacity="0.92"/>
<path d="M71 165.2V280.4M76.3 165.2V280.4" stroke="#7a7a7a" stroke-width="0.7" stroke-dasharray="1.3 1.6" fill="none"/>
<path d="M28.9 274.5H118.4" stroke="#333" stroke-width="0.6" stroke-dasharray="1.2 1.6" fill="none"/>
<line x1="86.6" y1="237.4" x2="86.6" y2="234" stroke="#000" stroke-width="0.75"/>
<path d="M86.6 234L87.5 235.9L85.7 235.9Z" fill="#000"/>
<rect x="80" y="237.4" width="14" height="4" rx="0.6" fill="#fff" fill-opacity="0.95" stroke="#666" stroke-width="0.4"/>
<text x="87" y="240.5" font-size="3.2" text-anchor="middle" fill="#2b2b2b" textLength="12.4" lengthAdjust="spacingAndGlyphs">MtFIE.15</text>
<line x1="55.6" y1="272.2" x2="58.6" y2="273.6" stroke="#000" stroke-width="0.75"/>
<path d="M58.6 273.6L56.5 273.6L57.3 272Z" fill="#000"/>
<rect x="42.6" y="270" width="13" height="3.6" rx="0.6" fill="#fff" fill-opacity="0.95" stroke="#666" stroke-width="0.4"/>
<text x="49.1" y="272.9" font-size="3.2" text-anchor="middle" fill="#2b2b2b" textLength="11.4" lengthAdjust="spacingAndGlyphs">MtCURN</text>
<rect x="70" y="275.6" width="7" height="2" rx="0.6" fill="#fff" fill-opacity="0.95" stroke="#666" stroke-width="0.4"/>
<text x="73.5" y="277.7" font-size="3.2" text-anchor="middle" fill="#2b2b2b" textLength="5.4" lengthAdjust="spacingAndGlyphs">MtFIE</text>
<rect x="28.9" y="165.2" width="89.5" height="115.2" fill="none" stroke="#303030" stroke-width="1.2"/>
<path d="M46.4 280.4v2.2M73.7 280.4v2.2M101 280.4v2.2M28.9 275.5h-2.4M28.9 249.1h-2.4M28.9 222.7h-2.4M28.9 196.3h-2.4M28.9 169.9h-2.4" stroke="#333" stroke-width="0.8" fill="none"/>
<g font-size="5.5" fill="#484848">
<text x="46.4" y="288.8" text-anchor="middle">−10</text><text x="73.7" y="288.8" text-anchor="middle">0</text><text x="101" y="288.8" text-anchor="middle">10</text><text x="25.2" y="277.9" text-anchor="end">0</text><text x="25.2" y="251.5" text-anchor="end">25</text><text x="25.2" y="225.1" text-anchor="end">50</text><text x="25.2" y="198.8" text-anchor="end">75</text><text x="25.2" y="172.3" text-anchor="end">100</text>
</g>
<text x="28.8" y="160.5" font-size="5.45" fill="#000">Drought 0h versus 2h</text>
<text x="73.2" y="296.8" font-size="5.85" fill="#222" text-anchor="middle">Log<tspan font-size="3.7" dy="1.2">2</tspan><tspan dy="-1.2"> fold change</tspan></text>
<text transform="translate(11.3 222.8) rotate(-90)" font-size="6.15" fill="#222" text-anchor="middle">−Log<tspan font-size="3.9" dy="0.8">10</tspan><tspan dy="-0.8" font-style="italic"> P</tspan></text>
<circle cx="133" cy="216" r="2.05" fill="#FE7566"/><text x="139.4" y="217.9" font-size="5.4" fill="#111">Up:3179</text>
<circle cx="133" cy="223" r="2.15" fill="#0DDCCA"/><text x="139.4" y="224.9" font-size="5.4" fill="#111">Down:2393</text>
<circle cx="133" cy="230.6" r="1.9" fill="#BEBEBE"/><text x="139.4" y="232.5" font-size="5.4" fill="#111">Unchange:21922</text>
</g>
<g>
<path d="M227.8 164.7V280.2M255.1 164.7V280.2M282.4 164.7V280.2M210.4 275.2H299.7M210.4 248.8H299.7M210.4 222.4H299.7M210.4 196.1H299.7M210.4 169.6H299.7" stroke="#ececec" stroke-width="1.1" fill="none"/>
<path d="M214.1 164.7V280.2M241.4 164.7V280.2M268.7 164.7V280.2M296 164.7V280.2M210.4 262.1H299.7M210.4 235.7H299.7M210.4 209.2H299.7M210.4 182.8H299.7" stroke="#fbfbfb" stroke-width="0.5" fill="none"/>
<path d="M252.7 274.7h0M257.3 274.7h0M255 275.3h0M259.2 275.5h0M252.3 275.3h0M250.5 275.7h0M250.9 275h0M257.5 274.5h0M254 275.6h0M253.4 275.1h0M251.3 275.3h0M253.8 275.3h0M255.9 275.3h0M253.5 274.8h0M251.9 275.4h0M258.6 275.5h0M255.9 275.6h0M250.5 275.4h0M261.7 275.4h0M259.3 275.4h0M258.4 274.6h0M249.3 275.3h0M249.8 275.7h0M253.7 275.3h0M256.7 274.7h0M259.8 274.7h0M255.5 275.5h0M260.1 275.2h0M258.5 275.5h0M253.6 275.3h0M259.5 275.2h0M255.7 275.5h0M254.7 275.6h0M256.6 275.3h0M255.6 275h0M253.2 275.1h0M259.4 274.7h0M252.1 274.8h0M258.7 274.9h0M258.5 275.6h0M258.4 275.6h0M253.5 275.4h0M253.6 275.6h0M249.6 275.5h0M250.3 275.4h0M260 275h0M260.8 274.9h0M263.3 275.7h0M252.2 275.6h0M251.7 275h0M247 275.7h0M258.4 275.4h0M258.2 275.2h0M253.6 275.6h0M256.9 275.4h0M260.4 275.1h0M256.2 274.5h0M259.7 275.6h0M258.2 275.6h0M259.9 275.4h0" stroke="#BEBEBE" stroke-width="2" stroke-linecap="round" fill="none"/>
<path d="M223.4 252L224.1 254.8L225.3 258.7L227.4 263.2L229.9 267L232.7 270.2L235.9 272.7L239.1 274L252.5 274.4L252.1 272.1L250.9 267L249.5 261.9L248 256.8L246.5 252.4L245.2 248.5L243 246.4L240 245.6L236 246.4L232 248.8L228 251.6L225 252.6Z" fill="#0DDCCA" stroke="#0DDCCA" stroke-width="1.2" stroke-linejoin="round"/>
<path d="M224.9 252.1h0M233.3 247.8h0M239.3 245.7h0M240.3 245.3h0M225.3 250.9h0M225.9 250.8h0M240.3 243.9h0M233.5 248.3h0M234.6 247.5h0M237.4 246.3h0M235.9 245.9h0M231.7 246.8h0M227.3 251.9h0M243.5 246.4h0M241.4 241.3h0M233.9 247.8h0M225.9 247.5h0M226.3 250.9h0M235 247.2h0M233.6 247.9h0M235 245.7h0M231.5 249.1h0M232.3 248.6h0" stroke="#0DDCCA" stroke-width="2.5" stroke-linecap="round" fill="none"/>
<path d="M236.3 229.5h0M239.3 231.1h0M234.3 232h0M238.1 238.7h0M221 243.2h0M241 245.1h0M237.2 246h0M244.2 247.3h0M225.7 249.2h0M235 247.7h0M231 249h0M228 249.5h0M242.5 246h0" stroke="#0DDCCA" stroke-width="2.6" stroke-linecap="round" fill="none"/>
<path d="M238.8 255.5h0M232.3 259.3h0M231.2 260.5h0M233.7 250.6h0M233.8 250h0M233.9 250.7h0M233.1 250.9h0M237.8 253.4h0M238 254.5h0M237.2 254.4h0M237.7 253.8h0M234.3 249.8h0M234.5 250.5h0M233.8 250.9h0M233.1 251.9h0M233.6 251.1h0M234.4 252h0M235 252.6h0M231.4 259.7h0M232.2 259.8h0M232.4 260.1h0M231.6 260.6h0M232.2 261.4h0M232.3 262.3h0M230.7 257.1h0M231.5 257.8h0M230.8 258.1h0M230.5 258.3h0M231 257.3h0M230.1 256.5h0M230 256.7h0M229.7 251.8h0M229.7 261.9h0M230.1 261.8h0M237.7 250.6h0M238 250.3h0M237.2 249.7h0M237.8 250.6h0M229.4 260.4h0M230.3 259.8h0M229.1 260.7h0M229.7 260.2h0M228.9 260.3h0M229 260.1h0M239.2 257.7h0M232.7 253.3h0M233.6 253h0M234.7 253.9h0M235.3 253h0M230.4 253h0M231.1 253.5h0M234 256.5h0M241 251.3h0M241.2 250.8h0M240.8 250.9h0M241.7 251.2h0" stroke="#fff" stroke-width="1.1" stroke-linecap="round" fill="none"/>
<path d="M231.8 259.8h0M231.1 260.7h0M234.3 250.5h0M238.3 253.6h0M237.1 255.1h0M238 254.2h0M232 261.3h0M229.5 251.7h0M237.8 250h0M229.7 259.8h0M235.3 253.4h0M236 254.2h0M230.3 253.2h0M231.1 253.9h0" stroke="#fff" stroke-width="1.7" stroke-linecap="round" fill="none"/>
<path d="M288.1 249.8L287.7 254.3L286.8 259.4L285.2 264.5L283 268.9L279.8 272.1L276 274L257.5 274.4L257.8 272.1L258.8 267L260.5 261.3L262.3 255.5L263.9 250.5L268 250L272 249.5L276 248.5L281.1 247.9L286.2 248.5Z" fill="#FE7566" stroke="#FE7566" stroke-width="1.2" stroke-linejoin="round"/>
<path d="M280.1 247.3h0M286.7 246.3h0M280.4 247.7h0M268.2 248.3h0M283.6 244.7h0M272.5 249.5h0M276.4 243.7h0M268.2 247.1h0M268.4 249.5h0M265.6 249.9h0M273.3 242.5h0M268.7 249.5h0M286.3 248.5h0M271.8 248.6h0M266.9 249.9h0M273.5 248.4h0M286.8 248.6h0M269.1 244.4h0M274.8 244.8h0" stroke="#FE7566" stroke-width="2.5" stroke-linecap="round" fill="none"/>
<path d="M272.9 243.2h0M274.4 234.4h0M271.9 240.1h0M274.4 228.8h0M269.4 247.1h0M271.5 229.2h0M272.8 228.4h0M275.3 237.1h0M269.3 247.8h0M274.4 240.3h0M270 244h0M272.9 240.7h0M274.6 232.2h0M276.7 242.2h0M269.1 232.2h0M275 231h0M267.2 245.8h0M271.6 235.9h0M273.3 246.7h0M271.2 245.3h0M273.3 237.5h0M269.9 237.4h0M268.3 245.1h0M274.8 244.9h0M266.7 240.1h0M274.4 235.3h0M276.2 246.6h0M274.2 244.4h0M273 246h0M266.5 241.1h0M273.7 238.5h0M272.5 244.5h0M275 231.3h0M275.5 230.3h0M271.8 244h0M272.8 230.7h0M269 237.2h0M267.6 243.6h0M267.5 244.9h0M275.1 236.3h0M272.8 241.6h0M272.2 232.4h0M271.3 237.8h0M267.7 245.7h0M270.9 224.8h0M270.6 240.5h0M273.8 234h0M269.9 229.1h0M267.3 242h0M271.4 233.5h0M267.3 241.1h0M271.9 241h0M286.5 246.7h0M284.4 244.6h0M278.1 239.2h0M277.6 246.1h0M284.4 243.6h0M280 240.7h0M279.1 243.6h0" stroke="#FE7566" stroke-width="2.5" stroke-linecap="round" fill="none"/>
<path d="M288.1 240.5h0M288 242.5h0M287.9 244.5h0M287.8 246.3h0" stroke="#FE7566" stroke-width="2.6" stroke-linecap="round" fill="none"/>
<path d="M276.6 196h0M286.4 194.6h0M283 197h0M272.6 212.4h0M278.6 209h0M281.6 209h0M281.4 213.6h0M294 212.4h0M272.6 221h0M271.4 223h0M273 224.6h0M292.4 225h0M285 228h0M291 229h0M280 231.4h0M288.4 232.6h0M288 243h0M278 236h0M283 239h0" stroke="#FE7566" stroke-width="2.6" stroke-linecap="round" fill="none"/>
<path d="M280.6 184.4h0M283.6 187.6h0M286.2 194.2h0" stroke="#FE7566" stroke-width="2.6" stroke-linecap="round" fill="none"/>
<path d="M275.5 252.6h0M275.4 251.7h0M284.3 255.1h0M283.6 255.7h0M284.5 256.5h0M283.8 257.3h0M284 257.2h0M283.8 255.8h0M283.8 256.1h0M283 256.7h0M282.3 258.1h0M282 258.2h0M275.1 253.1h0M274.9 252.3h0M276.5 253h0M276.6 253.8h0M277.4 254.4h0M283.6 262.9h0M283.5 263.3h0M277.9 259.7h0M278.6 259.7h0M283.9 259.7h0M283.1 260.7h0M275.5 250.7h0M276.3 251.6h0M275.5 258.3h0M284.7 252.4h0M284.4 252.5h0M281.7 259.2h0M282.4 257.9h0M282.1 259h0M281.3 258.6h0M281.6 255.3h0" stroke="#fff" stroke-width="0.9" stroke-linecap="round" fill="none"/>
<path d="M284.5 257.2h0M283.3 256.8h0M284.5 255.6h0M282.2 257.3h0M278.6 260h0M279.1 260.5h0M279.2 261h0M276.3 257.9h0M275.4 258.4h0M276.3 258.8h0M284.2 253.2h0M283.3 253.5h0M282.3 258.3h0M281.5 258.4h0M281.4 259.3h0" stroke="#fff" stroke-width="1.4" stroke-linecap="round" fill="none"/>
<path d="M240.1 274.8H275" stroke="#BEBEBE" stroke-width="2.3" stroke-linecap="round" opacity="0.92"/>
<path d="M252.4 164.7V280.2M257.7 164.7V280.2" stroke="#7a7a7a" stroke-width="0.7" stroke-dasharray="1.3 1.6" fill="none"/>
<path d="M210.4 274.5H299.7" stroke="#333" stroke-width="0.6" stroke-dasharray="1.2 1.6" fill="none"/>
<line x1="268" y1="249" x2="268" y2="252.6" stroke="#000" stroke-width="0.75"/>
<path d="M268 252.6L267.1 250.7L268.9 250.7Z" fill="#000"/>
<rect x="261" y="245" width="14" height="4" rx="0.6" fill="#fff" fill-opacity="0.95" stroke="#666" stroke-width="0.4"/>
<text x="268" y="248.1" font-size="3.2" text-anchor="middle" fill="#2b2b2b" textLength="12.4" lengthAdjust="spacingAndGlyphs">MtFIE.15</text>
<line x1="255.6" y1="263.4" x2="254" y2="272" stroke="#000" stroke-width="0.75"/>
<path d="M254 272L253.5 270L255.2 270.3Z" fill="#000"/>
<rect x="250" y="259.4" width="15" height="4" rx="0.6" fill="#fff" fill-opacity="0.95" stroke="#666" stroke-width="0.4"/>
<text x="257.5" y="262.4" font-size="3.2" text-anchor="middle" fill="#2b2b2b" textLength="13.4" lengthAdjust="spacingAndGlyphs">MtMSI1.3</text>
<line x1="245" y1="266.2" x2="252" y2="273.4" stroke="#000" stroke-width="0.75"/>
<path d="M252 273.4L250 272.7L251.3 271.4Z" fill="#000"/>
<rect x="231" y="263.4" width="14" height="4" rx="0.6" fill="#fff" fill-opacity="0.95" stroke="#666" stroke-width="0.4"/>
<text x="238" y="266.4" font-size="3.2" text-anchor="middle" fill="#2b2b2b" textLength="12.4" lengthAdjust="spacingAndGlyphs">MtFIE.16</text>
<line x1="243" y1="273" x2="247.2" y2="274" stroke="#000" stroke-width="0.75"/>
<path d="M247.2 274L245.1 274.4L245.6 272.7Z" fill="#000"/>
<rect x="227" y="270.6" width="16" height="3.6" rx="0.6" fill="#fff" fill-opacity="0.95" stroke="#666" stroke-width="0.4"/>
<text x="235" y="273.4" font-size="3.2" text-anchor="middle" fill="#2b2b2b" textLength="14.4" lengthAdjust="spacingAndGlyphs">MtVRN1.2</text>
<line x1="269.4" y1="269.4" x2="265" y2="273.4" stroke="#000" stroke-width="0.75"/>
<path d="M265 273.4L265.8 271.5L267 272.8Z" fill="#000"/>
<rect x="269" y="266.6" width="14.6" height="3.6" rx="0.6" fill="#fff" fill-opacity="0.95" stroke="#666" stroke-width="0.4"/>
<text x="276.3" y="269.4" font-size="3.2" text-anchor="middle" fill="#2b2b2b" textLength="13" lengthAdjust="spacingAndGlyphs">MtMEA.1</text>
<line x1="271.4" y1="274" x2="267.2" y2="274" stroke="#000" stroke-width="0.75"/>
<path d="M267.2 274L269.1 273.1L269.1 274.9Z" fill="#000"/>
<rect x="271.4" y="272" width="19" height="3.6" rx="0.6" fill="#fff" fill-opacity="0.95" stroke="#666" stroke-width="0.4"/>
<text x="280.9" y="274.9" font-size="3.2" text-anchor="middle" fill="#2b2b2b" textLength="17.4" lengthAdjust="spacingAndGlyphs">MtVRN1.20</text>
<line x1="255.2" y1="275.4" x2="254.4" y2="273.8" stroke="#000" stroke-width="0.75"/>
<path d="M254.4 273.8L256.1 275.1L254.4 275.9Z" fill="#000"/>
<rect x="253" y="275.4" width="14" height="4" rx="0.6" fill="#fff" fill-opacity="0.95" stroke="#666" stroke-width="0.4"/>
<text x="260" y="278.4" font-size="3.2" text-anchor="middle" fill="#2b2b2b" textLength="12.4" lengthAdjust="spacingAndGlyphs">MtFIE.17</text>
<rect x="210.4" y="164.7" width="89.2" height="115.5" fill="none" stroke="#303030" stroke-width="1.2"/>
<path d="M227.8 280.2v2.2M255.1 280.2v2.2M282.4 280.2v2.2M210.4 275.2h-2.4M210.4 248.8h-2.4M210.4 222.4h-2.4M210.4 196.1h-2.4M210.4 169.6h-2.4" stroke="#333" stroke-width="0.8" fill="none"/>
<g font-size="5.5" fill="#484848">
<text x="227.8" y="288.6" text-anchor="middle">−10</text><text x="255.1" y="288.6" text-anchor="middle">0</text><text x="282.4" y="288.6" text-anchor="middle">10</text><text x="206.8" y="277.7" text-anchor="end">0</text><text x="206.8" y="251.3" text-anchor="end">50</text><text x="206.8" y="224.9" text-anchor="end">100</text><text x="206.8" y="198.5" text-anchor="end">150</text><text x="206.8" y="172.1" text-anchor="end">200</text>
</g>
<text x="210.4" y="159.7" font-size="5.45" fill="#000">Drought 0h versus 6h</text>
<text x="254.6" y="296.6" font-size="5.85" fill="#222" text-anchor="middle">Log<tspan font-size="3.7" dy="1.2">2</tspan><tspan dy="-1.2"> fold change</tspan></text>
<text transform="translate(192.7 222.4) rotate(-90)" font-size="6.15" fill="#222" text-anchor="middle">−Log<tspan font-size="3.9" dy="0.8">10</tspan><tspan dy="-0.8" font-style="italic"> P</tspan></text>
<circle cx="314.6" cy="215.4" r="2.05" fill="#FE7566"/><text x="321" y="217.3" font-size="5.4" fill="#111">Up:4665</text>
<circle cx="314.6" cy="223" r="2.15" fill="#0DDCCA"/><text x="321" y="224.9" font-size="5.4" fill="#111">Down:5351</text>
<circle cx="314.6" cy="230.6" r="1.9" fill="#BEBEBE"/><text x="321" y="232.5" font-size="5.4" fill="#111">Unchange:17782</text>
</g>
<g>
<path d="M410 164.9V280.4M437.3 164.9V280.4M464.6 164.9V280.4M392.6 275.5H482M392.6 240.3H482M392.6 205.1H482M392.6 169.9H482" stroke="#ececec" stroke-width="1.1" fill="none"/>
<path d="M396.4 164.9V280.4M423.7 164.9V280.4M450.9 164.9V280.4M478.2 164.9V280.4M392.6 257.9H482M392.6 222.7H482M392.6 187.5H482" stroke="#fbfbfb" stroke-width="0.5" fill="none"/>
<path d="M439.5 276.4h0M444.7 275.6h0M439.7 276.4h0M436.2 276.2h0M432.7 276.6h0M436.1 276.3h0M438.2 276.6h0M434.9 275.8h0M438.1 276.1h0M445.2 276.5h0M435.2 276.5h0M437.6 275.7h0M437.9 276.6h0M442.6 276.3h0M436.4 276.4h0M442.6 276.1h0M441.9 276.4h0M436.6 276.3h0M441.4 275.9h0M437.8 276.5h0M435.8 276.4h0M441.7 275.5h0M435.1 276.1h0M433.1 276h0M437.3 276.2h0M437.5 276.6h0M434.2 276.5h0M434.1 276.5h0M437.4 276.6h0M437.6 276.3h0M436.5 276.5h0M437.8 276.5h0M439.5 276.2h0M436.6 276.5h0M440.1 276.2h0M437.6 276.5h0M435.9 276.3h0M444.3 276h0M431.3 276.5h0M433.9 276.1h0M438.5 275.8h0M441.5 276.1h0M435.7 276.5h0M441.8 276.4h0M435.7 276.4h0M440 276.5h0M434.8 276.3h0M438.8 276.6h0M440.6 276.1h0M433.5 276.1h0M437.2 276.4h0M438.5 276.6h0M436.2 276.5h0M436.7 276h0M438.5 276.6h0M432.1 276.3h0M434.8 276.1h0M443 275.8h0M430.2 276.3h0M437.2 276.1h0" stroke="#BEBEBE" stroke-width="2" stroke-linecap="round" fill="none"/>
<path d="M402.4 248.6L402.8 253L404.5 258.1L407.7 263.8L410.9 268.3L414.7 272.1L418.5 274.4L434.5 274.8L434.5 274L433.2 270.2L431.3 265.7L429.4 261.3L427.5 256.8L425.5 252.4L424.3 249.2L423 245.4L419.8 246L417.3 248.5L414.1 249.2L410.9 248.5L407.1 250.5L404.5 249.4Z" fill="#0DDCCA" stroke="#0DDCCA" stroke-width="1.2" stroke-linejoin="round"/>
<path d="M416.6 248.7h0M419.8 245h0M409.2 249.3h0M410.5 245.4h0M405 249.5h0M409.8 248.6h0M415.1 244.8h0M404.3 249.6h0M418.2 245.4h0M409 249.2h0M403.8 248h0M419.3 246.9h0M407.9 250.4h0M414.3 249.5h0M408.7 249.4h0M421.1 239.4h0M409.9 247.6h0M406.4 249.5h0M417.3 247.8h0M406.2 247.9h0M420 240.5h0" stroke="#0DDCCA" stroke-width="2.5" stroke-linecap="round" fill="none"/>
<path d="M400 239h0M413.2 238.4h0M417.3 238.4h0M418.8 239.6h0M410.3 247.3h0M421.1 244.7h0M422.4 246.6h0M415.5 246.5h0M406 248h0M412.5 246.5h0M419 243.5h0" stroke="#0DDCCA" stroke-width="2.6" stroke-linecap="round" fill="none"/>
<path d="M408.5 257.6h0M407.6 257.9h0M408.1 257.9h0M407.7 257.8h0M407 257.9h0M412.1 254.8h0M408.9 252.7h0M408.8 253.5h0M408 253h0M414.4 258.7h0M414.2 257.8h0M413.4 257.9h0M413.1 257.1h0M413 258h0M412.4 258.6h0M411.6 258.1h0M407 257h0M413.1 257.4h0M413.3 257.9h0M412.7 257.7h0M418.9 256.6h0M418.3 256h0M417.6 255.6h0M420.1 254h0M419.5 253.7h0M418.7 253.5h0M419.9 253.2h0M410.6 257.8h0M410.2 258.8h0M412.1 253.4h0M412.5 253.6h0M412.6 254.5h0M414.4 252.7h0M413.8 252h0" stroke="#fff" stroke-width="0.9" stroke-linecap="round" fill="none"/>
<path d="M408.1 258.6h0M408.8 258.1h0M412.8 254.7h0M407 256.4h0M407.3 256.4h0M413.4 257.3h0M419 255.2h0M418.2 255.1h0M419.1 253.8h0M412 254.2h0M412.7 254.2h0M413.9 252.8h0" stroke="#fff" stroke-width="1.4" stroke-linecap="round" fill="none"/>
<path d="M474.6 241.2L473.4 246.8L472 251.9L470.1 257.6L467.8 262.7L465.1 267.2L462.5 271L458 274.4L441.5 274.8L441.5 274L442.4 270.5L444.1 265.9L446 260.8L447.9 255.7L449.6 250.6L451.3 245.5L452.5 241.7L453.6 241.5L454.6 244.5L456 248.5L458 252L460.4 255.2L462.9 258.2L465.3 260.6L467.6 260.8L469.3 256L470.8 250L472.1 245L473.2 241.8Z" fill="#FE7566" stroke="#FE7566" stroke-width="1.2" stroke-linejoin="round"/>
<path d="M457.9 252.1h0M465.4 260.1h0M461.6 253.5h0M467 258h0M473.2 241.8h0" stroke="#FE7566" stroke-width="2.5" stroke-linecap="round" fill="none"/>
<path d="M469.1 246.6h0M459.5 244.1h0M461.4 249.1h0M467.8 254.9h0M464.9 248.8h0M456.9 243.1h0M464.9 250.3h0M467.1 256.9h0M469.4 242h0M463.6 241.8h0M465.4 243.4h0M458.7 245.7h0M463 252.2h0M464.4 247.9h0" stroke="#FE7566" stroke-width="2.5" stroke-linecap="round" fill="none"/>
<path d="M468.3 215.6h0M467.3 225.4h0M457.5 225.8h0M462.1 228.4h0M477.4 228.4h0M459.9 232h0M454.5 233.2h0M456.6 232.9h0M463.8 233.8h0M458.8 234.9h0M475.9 233.7h0M455.2 237.1h0M453.7 237.8h0M456.6 237.1h0M453.8 240h0M457.7 241.5h0M460.6 241.1h0M462.5 243.6h0M465 242.9h0M458.8 245.1h0M463.2 248.7h0M460.6 249.8h0M457.3 244h0M461.5 246h0M459.8 251.5h0M464.5 252.5h0M466.5 249h0M462.8 254h0M467.8 255h0M456 241h0M465.5 257h0" stroke="#FE7566" stroke-width="2.6" stroke-linecap="round" fill="none"/>
<path d="M468 205.4h0M463.6 210h0M468 210h0M467 214h0M468.6 215.4h0M457 225.4h0M467 225.4h0M477.4 228.6h0M462 228.6h0M454.4 233h0M460 233h0M463 234h0M475.6 234h0M456 236h0M453.6 237.4h0M459 241h0M462 243h0M465 242.6h0" stroke="#FE7566" stroke-width="2.6" stroke-linecap="round" fill="none"/>
<path d="M471.2 187.2h0" stroke="#FE7566" stroke-width="2.6" stroke-linecap="round" fill="none"/>
<path d="M456.1 254.7h0M456.6 255.6h0M456.5 255.3h0M457.4 254.4h0M462.1 259.6h0M462 258.8h0M462.5 259.3h0M458.1 254.8h0M459 256.1h0M458.4 256.6h0M458 257.3h0M458.6 258h0M458.1 257.1h0M457.6 256h0M456 251.8h0" stroke="#fff" stroke-width="0.9" stroke-linecap="round" fill="none"/>
<path d="M457.5 254.2h0M458.5 256.6h0M456.8 252.3h0" stroke="#fff" stroke-width="1.4" stroke-linecap="round" fill="none"/>
<path d="M419.5 275.7H457" stroke="#BEBEBE" stroke-width="2.3" stroke-linecap="round" opacity="0.92"/>
<path d="M434.7 164.9V280.4M439.9 164.9V280.4" stroke="#7a7a7a" stroke-width="0.7" stroke-dasharray="1.3 1.6" fill="none"/>
<path d="M392.6 275.4H482" stroke="#333" stroke-width="0.6" stroke-dasharray="1.2 1.6" fill="none"/>
<line x1="429" y1="264.2" x2="433.6" y2="273.4" stroke="#000" stroke-width="0.75"/>
<path d="M433.6 273.4L431.9 272.1L433.6 271.3Z" fill="#000"/>
<rect x="411.4" y="261.4" width="17.6" height="4" rx="0.6" fill="#fff" fill-opacity="0.95" stroke="#666" stroke-width="0.4"/>
<text x="420.2" y="264.4" font-size="3.2" text-anchor="middle" fill="#2b2b2b" textLength="16" lengthAdjust="spacingAndGlyphs">MtVRN1.12</text>
<line x1="452" y1="259.4" x2="452" y2="255.4" stroke="#000" stroke-width="0.75"/>
<path d="M452 255.4L452.9 257.3L451.1 257.3Z" fill="#000"/>
<rect x="445" y="259.4" width="14" height="4" rx="0.6" fill="#fff" fill-opacity="0.95" stroke="#666" stroke-width="0.4"/>
<text x="452" y="262.4" font-size="3.2" text-anchor="middle" fill="#2b2b2b" textLength="12.4" lengthAdjust="spacingAndGlyphs">MtFIE.15</text>
<line x1="427.4" y1="272.4" x2="433.6" y2="274.2" stroke="#000" stroke-width="0.75"/>
<path d="M433.6 274.2L431.5 274.5L432 272.8Z" fill="#000"/>
<rect x="412" y="270.4" width="15.4" height="3.6" rx="0.6" fill="#fff" fill-opacity="0.95" stroke="#666" stroke-width="0.4"/>
<text x="419.7" y="273.2" font-size="3.2" text-anchor="middle" fill="#2b2b2b" textLength="13.8" lengthAdjust="spacingAndGlyphs">MtMSI1.3</text>
<line x1="439.4" y1="271" x2="435.2" y2="274" stroke="#000" stroke-width="0.75"/>
<path d="M435.2 274L436.2 272.2L437.3 273.6Z" fill="#000"/>
<rect x="439" y="268.6" width="13.4" height="3.6" rx="0.6" fill="#fff" fill-opacity="0.95" stroke="#666" stroke-width="0.4"/>
<text x="445.7" y="271.4" font-size="3.2" text-anchor="middle" fill="#2b2b2b" textLength="11.8" lengthAdjust="spacingAndGlyphs">MtFIE.12</text>
<rect x="392.6" y="164.9" width="89.4" height="115.5" fill="none" stroke="#303030" stroke-width="1.2"/>
<path d="M410 280.4v2.2M437.3 280.4v2.2M464.6 280.4v2.2M392.6 275.5h-2.4M392.6 240.3h-2.4M392.6 205.1h-2.4M392.6 169.9h-2.4" stroke="#333" stroke-width="0.8" fill="none"/>
<g font-size="5.5" fill="#484848">
<text x="410" y="288.8" text-anchor="middle">−10</text><text x="437.3" y="288.8" text-anchor="middle">0</text><text x="464.6" y="288.8" text-anchor="middle">10</text><text x="388.9" y="277.9" text-anchor="end">0</text><text x="388.9" y="242.8" text-anchor="end">100</text><text x="388.9" y="207.5" text-anchor="end">200</text><text x="388.9" y="172.3" text-anchor="end">300</text>
</g>
<text x="392.6" y="159.9" font-size="5.45" fill="#000">Drought 0h versus 12h</text>
<text x="436.8" y="296.8" font-size="5.85" fill="#222" text-anchor="middle">Log<tspan font-size="3.7" dy="1.2">2</tspan><tspan dy="-1.2"> fold change</tspan></text>
<text transform="translate(373.7 222.6) rotate(-90)" font-size="6.15" fill="#222" text-anchor="middle">−Log<tspan font-size="3.9" dy="0.8">10</tspan><tspan dy="-0.8" font-style="italic"> P</tspan></text>
<circle cx="496.8" cy="215.8" r="2.05" fill="#FE7566"/><text x="503.3" y="217.8" font-size="5.4" fill="#111">Up:4684</text>
<circle cx="496.8" cy="222.8" r="2.15" fill="#0DDCCA"/><text x="503.3" y="224.8" font-size="5.4" fill="#111">Down:5723</text>
<circle cx="496.8" cy="230" r="1.9" fill="#BEBEBE"/><text x="503.3" y="231.9" font-size="5.4" fill="#111">Unchange:17027</text>
</g>
<g>
<path d="M46 313.5V428.9M73.3 313.5V428.9M100.6 313.5V428.9M28.6 423.9H118M28.6 388.7H118M28.6 353.5H118M28.6 318.3H118" stroke="#ececec" stroke-width="1.1" fill="none"/>
<path d="M32.3 313.5V428.9M59.6 313.5V428.9M86.9 313.5V428.9M114.2 313.5V428.9M28.6 406.3H118M28.6 371.1H118M28.6 335.9H118" stroke="#fbfbfb" stroke-width="0.5" fill="none"/>
<path d="M74.7 424.5h0M75.2 424.4h0M71.9 424.5h0M71.6 424.2h0M73.2 423.4h0M69.3 423.5h0M73 424.1h0M74.3 424.5h0M75.1 424.5h0M75.4 424.2h0M71.3 424.5h0M64.9 423.5h0M75.3 423.7h0M75.2 424.1h0M73.1 424.5h0M72.8 424.4h0M72 424.5h0M76.9 423.8h0M69.5 424.4h0M75.2 423.9h0M75.1 424h0M72.8 424.5h0M75.5 424.4h0M75.3 424h0M73.3 423.9h0M70.2 424.5h0M75.6 424.4h0M77.4 424.5h0M74.6 423.7h0M71.1 424.4h0M77.4 423.1h0M80.7 424.5h0M74.1 424.4h0M70.2 424.4h0M71.8 423.8h0M71.4 423.6h0M69.9 424.2h0M71.2 423.7h0M72.1 424.1h0M72.1 424.2h0M75.5 423.9h0M73.3 424.4h0M70.6 423.7h0M71.9 423.5h0M71.7 424h0M72.8 424.4h0M70.6 423.9h0M72.1 424.5h0M74.7 423.9h0M66.8 424.2h0M76.6 424.3h0M72.1 423.9h0M74.3 423.7h0M72.8 424.4h0M73.5 424.3h0M74.9 424.4h0M78.5 423.5h0M72.1 424.5h0M72.9 424.4h0M69.5 423.7h0" stroke="#BEBEBE" stroke-width="2" stroke-linecap="round" fill="none"/>
<path d="M39.3 381.6L39.9 386.7L40.8 393.1L42.1 399.5L43.7 405.8L45.9 412.2L48.4 417.3L51.4 421.1L53.9 423L69.8 423.4L69.2 419.8L68.2 413.5L67 407.1L65.7 400.7L64.3 394.4L63.1 388L61.9 382.3L61.2 379.1L59.5 381L57 385L53 388L49 388.5L45 387L42 384L40.5 381.5Z" fill="#0DDCCA" stroke="#0DDCCA" stroke-width="1.2" stroke-linejoin="round"/>
<path d="M53.6 386.7h0M50.7 388.3h0M54.4 383.3h0M55.2 386.8h0M58.8 378.9h0M50.9 384.8h0M46.4 382.3h0M52.4 386.8h0M44.8 385.7h0M56.7 381.6h0M47.4 381h0M49.4 386.3h0M41.7 377h0M54.9 385.5h0M44.5 386.4h0M56.7 380.9h0M48 387.9h0M56.3 381.4h0M58.9 380.2h0M57.9 381.6h0M56.6 385.7h0M50.5 383.2h0M54.3 382.9h0M46.4 383.6h0" stroke="#0DDCCA" stroke-width="2.5" stroke-linecap="round" fill="none"/>
<path d="M51.7 342.8h0M36.6 354h0M53.9 363.2h0M53.1 364.5h0M50.5 367h0M53.9 368.3h0M58.1 368.3h0M38.6 369.8h0M58.6 370.8h0M57.3 372.7h0M45 373.4h0M39.9 375.7h0M55.8 377.2h0M50.7 378.2h0M44.4 378.7h0M60.9 379.7h0M40.3 379.7h0M54.5 381h0M52.6 381.6h0M47.5 381h0M57.5 379.5h0M42.5 378h0M44 383.5h0M47 385.5h0M51 384.5h0M55 383h0M52.5 386.8h0M56.5 384h0M48.8 382.5h0M46 380.5h0" stroke="#0DDCCA" stroke-width="2.6" stroke-linecap="round" fill="none"/>
<path d="M60 403.4h0M59.8 404.1h0M60 403.1h0M60.2 403.9h0M59.8 404.6h0M48.3 394.9h0M56.5 405.4h0M58 406.5h0M58.4 407h0M57.9 407.4h0M58.5 406.6h0M58.3 407.3h0M59.9 407.9h0M59.2 408.8h0M60.2 409.2h0M59.9 409.7h0M60.6 409.2h0M60.1 408.4h0M47 397.5h0M46.6 397.4h0M46.9 398.2h0M49.4 394.3h0M49 395.1h0M48.3 395.2h0M48.4 395.2h0M48.8 395.3h0M49.1 394.5h0M51.6 404.4h0M58.9 401.3h0M47.4 408.8h0M47.3 408.6h0M48 408h0M47.8 408.5h0M63 400.1h0M62.4 399.2h0M63.1 398.4h0M62.3 397.5h0M63 398.2h0M63.4 397.7h0M45.7 403.6h0M45.3 403.4h0M45 403h0M47.7 391.9h0M49 392.3h0M48.3 392.2h0M47.3 407.6h0M48.1 406.7h0M58.9 403.3h0M53.9 396h0M53.2 395.7h0M52.1 394.7h0M46.7 398h0M47.2 398.1h0M46.8 398.2h0M53.2 398.5h0M52.4 398.9h0M51.1 394.6h0M50.8 395h0M51 394.9h0M58.7 397.9h0M58.9 398.7h0M58.8 398.3h0M59.1 398.8h0M45.9 394.9h0M45.7 394.5h0M44.7 396.2h0M44.9 396.9h0M54 406.4h0M54.2 406.3h0M50.7 401.4h0M51.4 400.5h0M50.6 401.1h0M49.7 402.8h0M49 402.2h0M62.4 409.5h0M61.9 399.9h0M58.5 389h0M57.9 389.5h0M57.7 388.7h0M58.2 388.9h0M56.5 388.4h0M55.2 403.2h0M54.9 404.1h0M50.8 391.8h0M50.8 390.9h0M61 389.5h0M61.5 389.7h0M51.9 401.8h0M58.7 399.8h0M58 400h0M57.4 399.1h0" stroke="#fff" stroke-width="1.1" stroke-linecap="round" fill="none"/>
<path d="M48.5 394.7h0M57.2 405.9h0M59.5 409.1h0M49 395.5h0M52.5 403.7h0M52.6 404.2h0M47.7 408.5h0M62.8 397.1h0M45.3 402.6h0M48.3 391.4h0M48 405.9h0M58.6 402.6h0M53.4 395.4h0M52.6 395.1h0M45.2 395.1h0M45.3 395.4h0M44.5 396.9h0M49.7 401.9h0M48.3 401.8h0M57.3 388h0M55.8 387.7h0M57.8 399.7h0" stroke="#fff" stroke-width="1.6" stroke-linecap="round" fill="none"/>
<path d="M107.5 376.5L106.9 381.6L106 388L104.7 394.4L103.2 400.7L101.3 407.1L98.8 413.5L95.9 418.5L92.7 421.7L88.9 423.4L76.2 423.6L76.2 423L76.6 417.3L77.4 410.9L78.8 403.5L80.3 396L81.5 389.9L82.6 382.9L83.8 376.5L84.8 371.5L85.8 368L88 369L90 374L92 379.5L95 383L98 384L101 383L103.5 380L105.5 377.5Z" fill="#FE7566" stroke="#FE7566" stroke-width="1.2" stroke-linejoin="round"/>
<path d="M97 381.9h0M100.5 383.1h0M99.7 381.6h0M105.4 374.1h0M105.7 371.7h0M93.8 378h0M90.2 373.5h0M100 382.5h0M96.2 381h0M106.6 376.9h0M104.8 378.1h0M106.9 376.5h0M100 380.6h0M86.4 365.9h0M93.1 377.8h0M97.9 379.1h0M93.3 378.6h0M97.6 377.9h0M106.8 375.1h0M103.5 380.4h0M95.2 383.3h0M94.9 382.2h0M96.8 380h0" stroke="#FE7566" stroke-width="2.5" stroke-linecap="round" fill="none"/>
<path d="M93.6 326.9h0M104.4 334.5h0M94 337.3h0M108 341.1h0M89.9 347.9h0M92.1 349.4h0M90.3 349.6h0M96.8 356.2h0M88.7 359.1h0M94 358.3h0M91.5 360h0M93 361.9h0M87.6 363.8h0M100.4 364.2h0M101.6 365.7h0M107.4 366.4h0M92.1 367h0M93.4 368.9h0M105.5 371.5h0M95.9 374h0M100.4 375.3h0M104.2 372.1h0M94 376.5h0M105.5 375.9h0M107.4 374h0M110.6 354.4h0M89.5 365.5h0M86.5 366h0M91 371h0M97.5 377.5h0M102 377h0" stroke="#FE7566" stroke-width="2.6" stroke-linecap="round" fill="none"/>
<path d="M86.1 403.6h0M102.6 397.7h0M103.1 396.8h0M102.9 395.9h0M103 394.4h0M95.5 401.1h0M95.6 401.7h0M95.6 402.4h0M96.8 401.7h0M96 402.6h0M96.5 401.9h0M93.2 390h0M92.4 390.4h0M91.9 390.6h0M91.1 390.2h0M91.3 391.1h0M91.8 391.4h0M90.9 386.6h0M103.3 388.8h0M102.8 390.1h0M102.3 389.9h0M91.9 382.4h0M91.5 382.3h0M99 402.2h0M99.7 403h0M99.6 403.9h0M87.9 399.9h0M87.4 398.8h0M87.4 398.4h0M97 387.1h0M95.7 386.8h0M96.5 387.2h0M97.4 387.4h0M98 387.8h0M98.2 387.4h0M90.6 418.9h0M94 388.4h0M89.9 400.3h0M100.3 389.5h0M86.9 397.1h0M93.9 416.1h0M94 415.5h0M94.3 415.5h0M98.8 395.4h0M98 395.6h0M97.8 396.2h0M97.9 396.1h0M94.1 401.3h0M93.5 401.7h0M88.7 386.3h0M91.9 402.7h0M96.6 396.5h0M97.2 397.5h0M94.2 399.1h0M90.2 406.8h0M88.1 409.2h0M87.9 408.3h0M87.1 408.9h0M87.4 408.2h0M103.7 384.2h0M102.9 384.3h0M95.6 393.4h0M95.9 409.9h0M95.9 409.3h0M94.2 406.4h0M90.6 398.7h0M89.3 398.9h0M89 398.4h0M88.5 398.2h0M94.2 386.2h0M87.1 387.7h0M87.8 386.9h0M95.3 387.8h0M96 387.9h0M95.3 388.1h0M94.6 387.2h0M87.4 412.1h0M86.6 412.2h0M92.6 407.8h0M94.3 387.2h0M93.6 387.6h0M98.1 386.2h0M97.7 385.4h0M97.6 384.1h0M97.8 384.8h0M97.9 385.6h0M98.7 386.2h0M96.1 392.4h0M96.1 392.1h0M95.7 403.5h0M86.4 397.2h0M86.3 397.7h0M86.4 397.2h0M95.7 395h0M90.9 392.8h0M90.4 392.7h0M90 392.5h0M90.9 392.2h0" stroke="#fff" stroke-width="1.1" stroke-linecap="round" fill="none"/>
<path d="M85.4 403.1h0M102.5 395h0M96.4 402.4h0M93.2 389.9h0M90.9 387.1h0M103 389.8h0M92.3 383.2h0M87.6 399.6h0M96.1 386.5h0M86.6 397.2h0M94.8 416.3h0M97 395.1h0M93.3 402.5h0M88 386.9h0M97.1 397h0M96.5 397.8h0M89.4 407.8h0M88.6 408.6h0M103.6 383.6h0M102.3 384.5h0M90.1 398.5h0M94.9 386.2h0M92.4 408.5h0M96.9 384.9h0M95.9 403.8h0M85.9 397.3h0M95.3 395.7h0M90.4 391.9h0" stroke="#fff" stroke-width="1.6" stroke-linecap="round" fill="none"/>
<path d="M54.9 423.6H87.9" stroke="#BEBEBE" stroke-width="2.3" stroke-linecap="round" opacity="0.92"/>
<path d="M70.6 313.5V428.9M75.9 313.5V428.9" stroke="#7a7a7a" stroke-width="0.7" stroke-dasharray="1.3 1.6" fill="none"/>
<path d="M28.6 423.4H118" stroke="#333" stroke-width="0.6" stroke-dasharray="1.2 1.6" fill="none"/>
<line x1="82.4" y1="393" x2="82" y2="396.4" stroke="#000" stroke-width="0.75"/>
<path d="M82 396.4L81.3 394.4L83.1 394.6Z" fill="#000"/>
<rect x="75.6" y="389" width="14" height="4" rx="0.6" fill="#fff" fill-opacity="0.95" stroke="#666" stroke-width="0.4"/>
<text x="82.6" y="392.1" font-size="3.2" text-anchor="middle" fill="#2b2b2b" textLength="12.4" lengthAdjust="spacingAndGlyphs">MtFIE.15</text>
<line x1="72.4" y1="412.4" x2="75.2" y2="420.4" stroke="#000" stroke-width="0.75"/>
<path d="M75.2 420.4L73.7 418.9L75.4 418.3Z" fill="#000"/>
<rect x="54.4" y="409.6" width="18" height="4" rx="0.6" fill="#fff" fill-opacity="0.95" stroke="#666" stroke-width="0.4"/>
<text x="63.4" y="412.7" font-size="3.2" text-anchor="middle" fill="#2b2b2b" textLength="16.4" lengthAdjust="spacingAndGlyphs">MtVRN1.17</text>
<line x1="80" y1="415" x2="78.8" y2="418.6" stroke="#000" stroke-width="0.75"/>
<path d="M78.8 418.6L78.5 416.5L80.3 417.1Z" fill="#000"/>
<rect x="76" y="411" width="15.6" height="4" rx="0.6" fill="#fff" fill-opacity="0.95" stroke="#666" stroke-width="0.4"/>
<text x="83.8" y="414.1" font-size="3.2" text-anchor="middle" fill="#2b2b2b" textLength="14" lengthAdjust="spacingAndGlyphs">MtMSI1.A</text>
<line x1="98" y1="416.4" x2="94" y2="421.6" stroke="#000" stroke-width="0.75"/>
<path d="M94 421.6L94.4 419.5L95.9 420.6Z" fill="#000"/>
<rect x="97.6" y="413.6" width="15.4" height="4" rx="0.6" fill="#fff" fill-opacity="0.95" stroke="#666" stroke-width="0.4"/>
<text x="105.3" y="416.7" font-size="3.2" text-anchor="middle" fill="#2b2b2b" textLength="13.8" lengthAdjust="spacingAndGlyphs">MtMEA.1</text>
<line x1="64.4" y1="420.4" x2="68.2" y2="421.8" stroke="#000" stroke-width="0.75"/>
<path d="M68.2 421.8L66.1 422L66.7 420.3Z" fill="#000"/>
<rect x="52" y="419" width="12.4" height="3.4" rx="0.6" fill="#fff" fill-opacity="0.95" stroke="#666" stroke-width="0.4"/>
<text x="58.2" y="421.8" font-size="3.2" text-anchor="middle" fill="#2b2b2b" textLength="10.8" lengthAdjust="spacingAndGlyphs">MtEMF.7</text>
<line x1="75" y1="424" x2="77.2" y2="422.4" stroke="#000" stroke-width="0.75"/>
<path d="M77.2 422.4L76.2 424.2L75.1 422.8Z" fill="#000"/>
<rect x="61" y="422.4" width="14" height="4" rx="0.6" fill="#fff" fill-opacity="0.95" stroke="#666" stroke-width="0.4"/>
<text x="68" y="425.4" font-size="3.2" text-anchor="middle" fill="#2b2b2b" textLength="12.4" lengthAdjust="spacingAndGlyphs">MtMEA.2</text>
<line x1="93.6" y1="423.6" x2="93.6" y2="421.6" stroke="#000" stroke-width="0.75"/>
<path d="M93.6 421.6L94.5 423.5L92.7 423.5Z" fill="#000"/>
<rect x="87.6" y="423.6" width="13.4" height="3.6" rx="0.6" fill="#fff" fill-opacity="0.95" stroke="#666" stroke-width="0.4"/>
<text x="94.3" y="426.4" font-size="3.2" text-anchor="middle" fill="#2b2b2b" textLength="11.8" lengthAdjust="spacingAndGlyphs">MtCURN</text>
<rect x="28.6" y="313.5" width="89.3" height="115.4" fill="none" stroke="#303030" stroke-width="1.2"/>
<path d="M46 428.9v2.2M73.3 428.9v2.2M100.6 428.9v2.2M28.6 423.9h-2.4M28.6 388.7h-2.4M28.6 353.5h-2.4M28.6 318.3h-2.4" stroke="#333" stroke-width="0.8" fill="none"/>
<g font-size="5.5" fill="#484848">
<text x="46" y="437.3" text-anchor="middle">−10</text><text x="73.3" y="437.3" text-anchor="middle">0</text><text x="100.6" y="437.3" text-anchor="middle">10</text><text x="24.9" y="426.3" text-anchor="end">0</text><text x="24.9" y="391.1" text-anchor="end">50</text><text x="24.9" y="355.9" text-anchor="end">100</text><text x="24.9" y="320.7" text-anchor="end">150</text>
</g>
<text x="28.6" y="309.7" font-size="5.45" fill="#000">Salt 0h versus 2h</text>
<text x="72.8" y="444.6" font-size="5.85" fill="#222" text-anchor="middle">Log<tspan font-size="3.7" dy="1.2">2</tspan><tspan dy="-1.2"> fold change</tspan></text>
<text transform="translate(11.3 371.2) rotate(-90)" font-size="6.15" fill="#222" text-anchor="middle">−Log<tspan font-size="3.9" dy="0.8">10</tspan><tspan dy="-0.8" font-style="italic"> P</tspan></text>
<circle cx="132.6" cy="366.6" r="2.05" fill="#FE7566"/><text x="139.2" y="368.6" font-size="5.4" fill="#111">Up:4501</text>
<circle cx="132.6" cy="373.8" r="2.15" fill="#0DDCCA"/><text x="139.2" y="375.8" font-size="5.4" fill="#111">Down:3463</text>
<circle cx="132.6" cy="381.2" r="1.9" fill="#BEBEBE"/><text x="139.2" y="383.1" font-size="5.4" fill="#111">Unchange:19817</text>
</g>
<g>
<path d="M227.8 313.6V428.9M255.1 313.6V428.9M282.4 313.6V428.9M210.5 423.9H299.6M210.5 397.5H299.6M210.5 371.1H299.6M210.5 344.7H299.6M210.5 318.3H299.6" stroke="#ececec" stroke-width="1.1" fill="none"/>
<path d="M214.1 313.6V428.9M241.4 313.6V428.9M268.7 313.6V428.9M296 313.6V428.9M210.5 410.7H299.6M210.5 384.3H299.6M210.5 357.9H299.6M210.5 331.5H299.6" stroke="#fbfbfb" stroke-width="0.5" fill="none"/>
<path d="M251.5 424.1h0M254.9 424.6h0M254.5 424.6h0M259.2 424.6h0M250.7 423.5h0M255.9 424.4h0M254.2 424.5h0M256.7 423.9h0M251.7 424.7h0M254.5 424.1h0M253.3 423.6h0M259.1 423.9h0M251.7 424.5h0M251.3 423.4h0M255.9 424.5h0M253.5 423.6h0M256.9 424.4h0M259.4 423.8h0M253 424.6h0M255.5 424.2h0M260.6 424h0M251.8 424.5h0M252.8 424.5h0M258.5 424.7h0M254.7 424.7h0M251 424.1h0M252.4 424h0M253.4 424.5h0M260.2 424.6h0M252.8 424.5h0M257.2 423.7h0M257.2 424.5h0M251.1 424.4h0M254.6 424.6h0M252.8 424.1h0M251.7 424.4h0M256.8 424.5h0M253.7 424.2h0M250.1 423.9h0M262.7 423.7h0M255.5 423.7h0M255.2 424h0M254.4 424.6h0M256.9 423.8h0M254.3 423.8h0M244.8 424.5h0M258.3 424.6h0M255.7 424h0M256.2 423.7h0M251.7 424.6h0M255.6 424.5h0M254.7 423.8h0M244.8 424.1h0M258.3 424.4h0M255.1 424.7h0M256.3 424.6h0M252.5 424.3h0M252.2 424.7h0M253.8 424.1h0M257.2 424.7h0" stroke="#BEBEBE" stroke-width="2" stroke-linecap="round" fill="none"/>
<path d="M220.6 388.5L221 393.1L222.3 399.5L224.1 405.8L226.4 412.2L229.2 417.3L232.5 421.1L235.9 423L252.5 423.4L251.8 420.5L250.5 414.7L249 408.4L247.4 402L245.8 395.6L245.2 393.2L242 391.8L237 390.8L232 390.8L227 390.8L223.5 389.8Z" fill="#0DDCCA" stroke="#0DDCCA" stroke-width="1.2" stroke-linejoin="round"/>
<path d="M233.2 389.9h0M229.9 387.4h0M226 386.8h0M229.5 390.5h0M235.6 389.6h0M227.8 391.1h0M243.6 392.1h0M223.8 388.2h0M233.7 390.5h0M228.9 387.6h0M229.1 390.2h0M243.7 392.1h0M230.6 390.9h0M236.7 389.1h0M231.6 390.3h0M226.6 388.1h0M231.9 387.7h0M229.9 388.7h0M221.8 389h0" stroke="#0DDCCA" stroke-width="2.5" stroke-linecap="round" fill="none"/>
<path d="M219 371.5h0M220 376h0M219.5 378.5h0M220.2 383h0M233.5 375.5h0M237 378h0M238.5 379.5h0M229 379h0M230.5 380.5h0M236.5 383.5h0M239 386h0M227 386h0M233 387h0M221.5 387.5h0M228.5 389h0M224.5 386.5h0M231 385h0M241 389h0M235 388.5h0" stroke="#0DDCCA" stroke-width="2.6" stroke-linecap="round" fill="none"/>
<path d="M242.3 410.8h0M241.5 410.9h0M241 410.6h0M241.3 411.2h0M240.7 399.4h0M240 399.4h0M239.3 399h0M239.4 399.2h0M235.3 397.4h0M236.4 397.1h0M228 392.7h0M235.7 411h0M236.1 410.5h0M235.5 411.2h0M234.6 411.9h0M239.9 411h0M239.5 410.3h0M238 392.5h0M237.6 392h0M238.3 392.8h0M239 394h0M229.1 393.7h0M229.2 393.9h0M228.6 394.3h0M229.9 393.8h0M240 398.2h0M239.5 397.9h0M239.2 397.8h0M239.7 398.4h0M232.2 395.6h0M232.6 396h0M232.7 395.3h0M233.5 405.7h0M234.3 406.7h0M234.9 407.5h0M235.4 406.8h0M235.1 417h0M235.6 416.6h0M236.2 417h0M236 417.3h0M235.5 416.5h0M234.2 395.3h0M240.1 395.7h0M240.2 395.6h0M240.8 394.6h0M240.3 393.7h0M235.3 406.6h0M235.9 407.6h0M235.7 418.2h0M236 418h0M237.4 395.4h0M237.6 396.4h0M229.7 396.3h0M230.4 404.4h0M229.9 405.1h0M238.6 416h0M230.9 394.1h0M230.6 392.8h0M230.8 393.1h0M238.5 410.6h0M238.9 411.3h0M238.4 411.1h0M238.2 411.4h0M233.3 407.7h0M237.3 417.1h0M238.2 416.1h0M238.4 416.8h0M227.4 399.7h0M227.2 400h0M226.4 392.2h0M226.1 392.3h0M231.6 396.2h0M231.9 396.7h0M231.2 396.6h0M233 394.1h0M232.8 393.5h0M237.8 402h0M237.5 401.4h0M236.9 401.3h0M230 395.4h0M229.2 394.2h0" stroke="#fff" stroke-width="1.1" stroke-linecap="round" fill="none"/>
<path d="M241.5 410h0M235.7 397.1h0M239.7 410.5h0M239.5 411.4h0M238.2 393.4h0M229.1 394.2h0M239.6 397.3h0M234.3 406h0M234.4 406.8h0M234.2 406h0M234.4 395.2h0M238 396.1h0M238.1 396.8h0M230.9 393.2h0M230.9 392.9h0M234.2 407.7h0M227.6 400.6h0M227.4 399.6h0M226.7 399.2h0M238.3 401.5h0M229.4 394.7h0M230 394h0" stroke="#fff" stroke-width="1.6" stroke-linecap="round" fill="none"/>
<path d="M289.5 385L289.1 389.3L288.5 395.6L287.2 402L285.5 408.4L283.3 414.1L280.5 418.5L277 422.1L274.1 423.4L258.2 423.6L258.2 423L258.8 417.3L259.8 410.9L261.3 403.9L263.2 396.9L265.3 390.5L267.2 384.8L269 380.4L270.5 377L272.2 376.5L273.6 380L275 384.5L276.6 388L278.5 389.5L281 388L284 386L287.5 385Z" fill="#FE7566" stroke="#FE7566" stroke-width="1.2" stroke-linejoin="round"/>
<path d="M285.2 382.9h0M284.7 385.9h0M285.4 384.4h0M280.1 383.4h0M285.6 384.5h0M285.4 385.8h0M271.5 374.9h0M282.5 381.9h0M280.9 385.4h0M272.3 376h0M288.4 383.6h0M281.5 386.9h0M288.4 382.7h0M288.6 382.9h0M282.8 386.1h0M272.1 376.6h0M278.7 387h0M274.9 378.5h0M286.5 382h0M276.2 384.8h0" stroke="#FE7566" stroke-width="2.5" stroke-linecap="round" fill="none"/>
<path d="M271.9 376.2h0M275.7 376.6h0M272.1 378h0M271.8 372.5h0M271.5 378.5h0M274.2 375.6h0M275.2 379h0M273.2 377.1h0M279.4 372.2h0M277.6 379.6h0M274.6 379.6h0M277.7 380h0" stroke="#FE7566" stroke-width="2.5" stroke-linecap="round" fill="none"/>
<path d="M279 341h0M278.6 350.4h0M287 353.4h0M292 352.4h0M272.6 361h0M275.6 362.4h0M276 366h0M279.4 366h0M273 372h0M269 376h0M272 376h0M292 376.4h0M291 378h0M277 381h0M277 385h0" stroke="#FE7566" stroke-width="2.6" stroke-linecap="round" fill="none"/>
<path d="M278.8 332h0M285.2 336.6h0M279.2 340.6h0" stroke="#FE7566" stroke-width="2.6" stroke-linecap="round" fill="none"/>
<path d="M275.1 410.5h0M278.4 410.8h0M275.8 413.6h0M275.8 413.9h0M271.7 394.1h0M271.5 394h0M271.8 394.4h0M277.4 406.2h0M277.3 405.7h0M276.4 404.8h0M272.2 405.9h0M283.6 403.2h0M283.8 404.2h0M273.9 405.5h0M273.3 404.8h0M274.4 398.8h0M279.4 392.6h0M278.9 393.3h0M279.3 391.9h0M284.8 400h0M272.5 418.3h0M272.4 417.5h0M274.9 397.2h0M277 419.7h0M276.7 421h0M275.9 421.1h0M276.1 421.6h0M284 406.1h0M283.2 406.1h0M271.6 396.1h0M272.4 396.4h0M273.2 397h0M273.1 397.5h0M272.4 397.7h0M275 409.9h0M274.3 409.1h0M274 410h0M273.9 410.6h0M272.2 402.5h0M279.1 390.8h0M279.7 391.3h0M274.8 397.8h0M274.7 396.9h0M273.8 395.9h0M277.9 395.1h0M271.4 415h0M271.3 415.6h0M272.1 416.3h0M272.3 415.3h0M271.9 415.3h0M271.7 414.5h0M283.8 407.1h0M282.7 403h0M285 404.5h0M284.6 404.7h0M284.2 405.2h0M283.9 405.3h0M271.5 402.7h0M272.1 402.5h0M271.3 402.1h0M273.4 410.7h0M272.6 411.3h0M272.7 411.6h0M275 404.5h0M275.8 403.8h0" stroke="#fff" stroke-width="0.9" stroke-linecap="round" fill="none"/>
<path d="M274.7 410.7h0M277.2 406h0M272.8 406.6h0M279.5 392.9h0M272.1 417.3h0M276.3 420.4h0M276.1 421.7h0M273.3 411.6h0M271.8 415.6h0M283.6 403.5h0M284.3 403.9h0M271.7 402.9h0M272.6 411.3h0M272.8 411.9h0M276.4 404.7h0" stroke="#fff" stroke-width="1.4" stroke-linecap="round" fill="none"/>
<path d="M277 389h0M276.8 391h0M277.2 393h0M276.6 395h0M277 397.6h0M276.8 400h0M277.2 402.4h0M277 405h0" stroke="#fff" stroke-width="1.3" stroke-linecap="round" fill="none"/>
<path d="M236.9 423.8H273.1" stroke="#BEBEBE" stroke-width="2.3" stroke-linecap="round" opacity="0.92"/>
<path d="M252.4 313.6V428.9M257.7 313.6V428.9" stroke="#7a7a7a" stroke-width="0.7" stroke-dasharray="1.3 1.6" fill="none"/>
<path d="M210.5 423.6H299.6" stroke="#333" stroke-width="0.6" stroke-dasharray="1.2 1.6" fill="none"/>
<line x1="256.6" y1="409.6" x2="260" y2="418" stroke="#000" stroke-width="0.75"/>
<path d="M260 418L258.5 416.6L260.1 415.9Z" fill="#000"/>
<rect x="249" y="405.6" width="15" height="4" rx="0.6" fill="#fff" fill-opacity="0.95" stroke="#666" stroke-width="0.4"/>
<text x="256.5" y="408.7" font-size="3.2" text-anchor="middle" fill="#2b2b2b" textLength="13.4" lengthAdjust="spacingAndGlyphs">MtMSI1.A</text>
<line x1="265" y1="416.4" x2="262.4" y2="421" stroke="#000" stroke-width="0.75"/>
<path d="M262.4 421L262.6 418.9L264.1 419.8Z" fill="#000"/>
<rect x="260.6" y="412.4" width="15.4" height="4" rx="0.6" fill="#fff" fill-opacity="0.95" stroke="#666" stroke-width="0.4"/>
<text x="268.3" y="415.4" font-size="3.2" text-anchor="middle" fill="#2b2b2b" textLength="13.8" lengthAdjust="spacingAndGlyphs">MtMEA.2</text>
<line x1="279" y1="414.4" x2="277" y2="421.6" stroke="#000" stroke-width="0.75"/>
<path d="M277 421.6L276.6 419.5L278.4 420Z" fill="#000"/>
<rect x="278" y="410" width="15.6" height="4.4" rx="0.6" fill="#fff" fill-opacity="0.95" stroke="#666" stroke-width="0.4"/>
<text x="285.8" y="413.2" font-size="3.2" text-anchor="middle" fill="#2b2b2b" textLength="14" lengthAdjust="spacingAndGlyphs">MtMEA.1</text>
<line x1="255" y1="418.4" x2="258.2" y2="421.6" stroke="#000" stroke-width="0.75"/>
<path d="M258.2 421.6L256.2 420.9L257.5 419.6Z" fill="#000"/>
<rect x="242.4" y="416" width="12.6" height="3.6" rx="0.6" fill="#fff" fill-opacity="0.95" stroke="#666" stroke-width="0.4"/>
<text x="248.7" y="418.9" font-size="3.2" text-anchor="middle" fill="#2b2b2b" textLength="11" lengthAdjust="spacingAndGlyphs">MtFIE.2</text>
<line x1="247" y1="425" x2="249.2" y2="422.4" stroke="#000" stroke-width="0.75"/>
<path d="M249.2 422.4L248.7 424.4L247.3 423.3Z" fill="#000"/>
<rect x="232.6" y="424" width="14.4" height="3.6" rx="0.6" fill="#fff" fill-opacity="0.95" stroke="#666" stroke-width="0.4"/>
<text x="239.8" y="426.9" font-size="3.2" text-anchor="middle" fill="#2b2b2b" textLength="12.8" lengthAdjust="spacingAndGlyphs">MtEMF.7</text>
<line x1="277" y1="424" x2="276.6" y2="421.8" stroke="#000" stroke-width="0.75"/>
<path d="M276.6 421.8L277.8 423.5L276.1 423.8Z" fill="#000"/>
<rect x="267.6" y="424" width="18.8" height="4" rx="0.6" fill="#fff" fill-opacity="0.95" stroke="#666" stroke-width="0.4"/>
<text x="277" y="427.1" font-size="3.2" text-anchor="middle" fill="#2b2b2b" textLength="17.2" lengthAdjust="spacingAndGlyphs">MtVRN1.20</text>
<rect x="210.5" y="313.6" width="89.1" height="115.3" fill="none" stroke="#303030" stroke-width="1.2"/>
<path d="M227.8 428.9v2.2M255.1 428.9v2.2M282.4 428.9v2.2M210.5 423.9h-2.4M210.5 397.5h-2.4M210.5 371.1h-2.4M210.5 344.7h-2.4M210.5 318.3h-2.4" stroke="#333" stroke-width="0.8" fill="none"/>
<g font-size="5.5" fill="#484848">
<text x="227.8" y="437.2" text-anchor="middle">−10</text><text x="255.1" y="437.2" text-anchor="middle">0</text><text x="282.4" y="437.2" text-anchor="middle">10</text><text x="206.8" y="426.3" text-anchor="end">0</text><text x="206.8" y="399.9" text-anchor="end">50</text><text x="206.8" y="373.5" text-anchor="end">100</text><text x="206.8" y="347.1" text-anchor="end">150</text><text x="206.8" y="320.7" text-anchor="end">200</text>
</g>
<text x="210.4" y="309.5" font-size="5.45" fill="#000">Salt 0h versus 6h</text>
<text x="254.6" y="444.5" font-size="5.85" fill="#222" text-anchor="middle">Log<tspan font-size="3.7" dy="1.2">2</tspan><tspan dy="-1.2"> fold change</tspan></text>
<text transform="translate(192.3 371.2) rotate(-90)" font-size="6.15" fill="#222" text-anchor="middle">−Log<tspan font-size="3.9" dy="0.8">10</tspan><tspan dy="-0.8" font-style="italic"> P</tspan></text>
<circle cx="314.4" cy="363.6" r="2.05" fill="#FE7566"/><text x="321" y="365.6" font-size="5.4" fill="#111">Up:5081</text>
<circle cx="314.4" cy="371.8" r="2.15" fill="#0DDCCA"/><text x="321" y="373.8" font-size="5.4" fill="#111">Down:4320</text>
<circle cx="314.4" cy="380" r="1.9" fill="#BEBEBE"/><text x="321" y="381.9" font-size="5.4" fill="#111">Unchange:18662</text>
</g>
<g>
<path d="M410.8 312.4V427.8M438.1 312.4V427.8M465.4 312.4V427.8M393.6 422.7H482.6M393.6 396.4H482.6M393.6 370.1H482.6M393.6 343.8H482.6M393.6 317.5H482.6" stroke="#ececec" stroke-width="1.1" fill="none"/>
<path d="M397.1 312.4V427.8M424.4 312.4V427.8M451.7 312.4V427.8M479 312.4V427.8M393.6 409.6H482.6M393.6 383.2H482.6M393.6 356.9H482.6M393.6 330.6H482.6" stroke="#fbfbfb" stroke-width="0.5" fill="none"/>
<path d="M435.1 423.2h0M438.4 423.5h0M442.9 422.9h0M444.7 423.6h0M435.7 422.8h0M437.5 423.5h0M432.2 422.8h0M437.1 423.6h0M443 422.9h0M432.4 423.4h0M431.4 423.6h0M443.4 422.9h0M439.8 423.3h0M439 423.5h0M440.4 423.4h0M439.9 423.4h0M434.1 423.4h0M441.5 422.2h0M439.9 423.6h0M440.2 422.9h0M436.5 423.5h0M436.4 423.1h0M439.7 423h0M440 423h0M436.7 423.4h0M437.8 423.5h0M439.7 423.4h0M437.9 423.6h0M435.5 422.9h0M442.7 423.3h0M439.6 423h0M436.6 423.6h0M436.3 423.5h0M440.2 422.4h0M445.7 423.6h0M436.6 423.5h0M437 423.6h0M442.7 423.4h0M440.7 423.3h0M439.5 423h0M435.1 423.5h0M434.9 423.5h0M442.3 422.8h0M441.4 423.4h0M437.6 423.4h0M434.6 423.4h0M440.8 422.6h0M438.9 423.2h0M437 423.5h0M439 423.5h0M434.6 423.5h0M434.6 423.6h0M438.7 422.8h0M435.4 423.1h0M438.2 423.6h0M442.9 422.9h0M441.2 423.5h0M435.3 423.1h0M437.8 423.4h0M436.5 423.5h0" stroke="#BEBEBE" stroke-width="2" stroke-linecap="round" fill="none"/>
<path d="M403 394.5L404.3 397.8L406.2 403.5L408.7 409.3L411.7 414.4L415.1 418.6L418.9 421.4L421.5 422.4L436.1 422.6L435.8 420.1L434.8 415L433.5 409.9L432 404.8L430.5 399.7L429 394.6L427.6 390.8L425.5 391L423.4 392L420.8 393.5L418.3 396L415.1 398.5L411.9 399.5L408.7 398L405.5 396Z" fill="#0DDCCA" stroke="#0DDCCA" stroke-width="1.2" stroke-linejoin="round"/>
<path d="M413.2 399.3h0M411.2 395.2h0M410.3 394.1h0M421.8 391.2h0M417.9 394.4h0M407.6 397.1h0M415.3 398.8h0M420.2 390.6h0M410 397.2h0M415.2 393.7h0M424.1 390.8h0M404 390.1h0M420 392h0M405.7 394.1h0M426.9 390.4h0M408.3 397.1h0M419.1 392.8h0M414.2 397.9h0M412.7 399.1h0M410.8 399.2h0M421.2 390.2h0M425.6 388.8h0M417 395h0M409.2 396.3h0M415.5 396.2h0M412.6 394.3h0M404.4 394.1h0" stroke="#0DDCCA" stroke-width="2.5" stroke-linecap="round" fill="none"/>
<path d="M415.3 394.1h0M408.2 391.7h0M410.2 397.6h0M420.6 387h0M406.7 392.2h0M420.9 389.7h0M404.9 389.2h0M423.7 390.3h0M420.4 389.9h0M406.2 394.9h0M404.6 388.9h0M408.7 396.2h0M416.3 390.1h0M417.9 389.1h0M413.3 393.7h0M411.9 391.7h0M408 393.7h0M416.5 391.4h0M411.5 394.6h0M421.1 393h0M419.6 393.6h0M418.5 391.7h0M413.4 393.9h0M424.3 389.2h0M410 394.5h0M406.3 395.5h0M423.3 388.6h0M410.1 397.8h0M412 393h0M426.1 388.9h0" stroke="#0DDCCA" stroke-width="2.5" stroke-linecap="round" fill="none"/>
<path d="M423.4 381.3h0M422.1 384.5h0M411.9 383.2h0M419.5 388.9h0M424 385.1h0M412.5 392.1h0M415.7 393.4h0M403.6 385.7h0M404.3 388.9h0M402.6 384h0M412 386h0M412 388.6h0M423 383h0M424.5 386.5h0M409 391.5h0M406.5 390h0" stroke="#0DDCCA" stroke-width="2.6" stroke-linecap="round" fill="none"/>
<path d="M417.6 400.7h0M418.8 402h0M418.3 402.9h0M417.5 402.5h0M409.8 400.9h0M408.9 401.5h0M408.6 400.3h0M414.1 400.8h0M415.1 401h0M414.9 401.1h0M407.6 400.8h0M408.1 400.9h0M407.8 400.2h0M408 399.4h0M419.4 397.3h0M419.5 396.6h0M419.5 397.3h0M411.9 401.4h0M411.9 400.7h0M411.2 401h0M410.5 400.4h0M413.6 405.4h0M414.1 404.8h0M407.3 401.4h0M406.7 401.5h0M417.8 403.7h0M417.8 403.5h0" stroke="#fff" stroke-width="0.9" stroke-linecap="round" fill="none"/>
<path d="M418.3 401.6h0M418.7 397.6h0M418.7 397.6h0M418.3 403.4h0M417.5 402.7h0" stroke="#fff" stroke-width="1.4" stroke-linecap="round" fill="none"/>
<path d="M474.8 375L474.2 381.5L472.9 388L471.5 393.8L470 398.9L468.2 403.5L465.6 408.5L462.6 414.4L459 419.5L455.8 422L453.9 422.6L440.8 422.8L440.8 420.1L441.6 415L442.7 409.3L444 403.5L445.5 397.8L447.2 392.1L448.7 386.4L450.1 381.3L451.4 376.8L452.5 373L454.5 374.5L456.6 376L456.2 380L455.8 383L456.8 386.5L458.6 390.2L460.8 393.8L463 396.7L465.4 398.6L467.6 397.8L469.2 393.8L470.6 388L471.9 381.5L473.2 376Z" fill="#FE7566" stroke="#FE7566" stroke-width="1.2" stroke-linejoin="round"/>
<path d="M464.5 397.8h0M466.3 396h0M462.9 396.5h0M460.3 390.7h0M470.7 387.7h0" stroke="#FE7566" stroke-width="2.5" stroke-linecap="round" fill="none"/>
<path d="M460.3 381.7h0M462.3 388.5h0M460.4 391.1h0M464.4 393.2h0M464.4 386.8h0M463 388.2h0M464.4 382.9h0M463.6 381.7h0M468.4 382.4h0M466.2 382.9h0M463.9 384.5h0M468.8 385.8h0" stroke="#FE7566" stroke-width="2.5" stroke-linecap="round" fill="none"/>
<path d="M460.8 343.2h0M461.2 351.8h0M458.3 361h0M461.4 360.1h0M464.4 361h0M473.3 363.3h0M454.8 367.7h0M456.7 370.5h0M453.3 371.8h0M457.4 374.4h0M460.4 380.6h0M465.7 382.5h0M470.3 379.3h0M458.8 385h0M463.9 388.7h0M462.5 390.2h0M466.5 392h0M462.1 393.5h0M467.5 386h0M464 385h0M459.5 377.5h0M464.5 394.5h0M463.9 333.4h0M464.4 335.4h0M464.8 337.4h0M468.6 338.4h0" stroke="#FE7566" stroke-width="2.6" stroke-linecap="round" fill="none"/>
<path d="M422.5 422.7H452.9" stroke="#BEBEBE" stroke-width="2.3" stroke-linecap="round" opacity="0.92"/>
<path d="M435.4 312.4V427.8M440.7 312.4V427.8" stroke="#7a7a7a" stroke-width="0.7" stroke-dasharray="1.3 1.6" fill="none"/>
<path d="M393.6 422.4H482.6" stroke="#333" stroke-width="0.6" stroke-dasharray="1.2 1.6" fill="none"/>
<line x1="447.6" y1="397" x2="447.6" y2="399.8" stroke="#000" stroke-width="0.75"/>
<path d="M447.6 399.8L446.7 397.9L448.5 397.9Z" fill="#000"/>
<rect x="440" y="393" width="14" height="4" rx="0.6" fill="#fff" fill-opacity="0.95" stroke="#666" stroke-width="0.4"/>
<text x="447" y="396.1" font-size="3.2" text-anchor="middle" fill="#2b2b2b" textLength="12.4" lengthAdjust="spacingAndGlyphs">MtFIE.15</text>
<line x1="423" y1="409.4" x2="434.4" y2="420.4" stroke="#000" stroke-width="0.75"/>
<path d="M434.4 420.4L432.4 419.7L433.7 418.4Z" fill="#000"/>
<rect x="407" y="407" width="16" height="4" rx="0.6" fill="#fff" fill-opacity="0.95" stroke="#666" stroke-width="0.4"/>
<text x="415" y="410.1" font-size="3.2" text-anchor="middle" fill="#2b2b2b" textLength="14.4" lengthAdjust="spacingAndGlyphs">MtVRN1.6</text>
<line x1="437" y1="411" x2="436" y2="419.2" stroke="#000" stroke-width="0.75"/>
<path d="M436 419.2L435.3 417.2L437.1 417.4Z" fill="#000"/>
<rect x="429" y="407" width="15" height="4" rx="0.6" fill="#fff" fill-opacity="0.95" stroke="#666" stroke-width="0.4"/>
<text x="436.5" y="410.1" font-size="3.2" text-anchor="middle" fill="#2b2b2b" textLength="13.4" lengthAdjust="spacingAndGlyphs">MtMSI1.5</text>
<line x1="450.4" y1="409.6" x2="446" y2="413.6" stroke="#000" stroke-width="0.75"/>
<path d="M446 413.6L446.8 411.7L448 413Z" fill="#000"/>
<rect x="450" y="407" width="15.6" height="4" rx="0.6" fill="#fff" fill-opacity="0.95" stroke="#666" stroke-width="0.4"/>
<text x="457.8" y="410.1" font-size="3.2" text-anchor="middle" fill="#2b2b2b" textLength="14" lengthAdjust="spacingAndGlyphs">MtMSI1.A</text>
<line x1="458" y1="417" x2="457.6" y2="420.4" stroke="#000" stroke-width="0.75"/>
<path d="M457.6 420.4L456.9 418.4L458.7 418.6Z" fill="#000"/>
<rect x="449" y="413" width="18.4" height="4" rx="0.6" fill="#fff" fill-opacity="0.95" stroke="#666" stroke-width="0.4"/>
<text x="458.2" y="416.1" font-size="3.2" text-anchor="middle" fill="#2b2b2b" textLength="16.8" lengthAdjust="spacingAndGlyphs">MtVRN1.20</text>
<line x1="430" y1="420" x2="434.6" y2="421.8" stroke="#000" stroke-width="0.75"/>
<path d="M434.6 421.8L432.5 421.9L433.2 420.3Z" fill="#000"/>
<rect x="414.4" y="418" width="15.6" height="3.6" rx="0.6" fill="#fff" fill-opacity="0.95" stroke="#666" stroke-width="0.4"/>
<text x="422.2" y="420.9" font-size="3.2" text-anchor="middle" fill="#2b2b2b" textLength="14" lengthAdjust="spacingAndGlyphs">MtMSI1.3</text>
<line x1="440" y1="423" x2="442.4" y2="419.6" stroke="#000" stroke-width="0.75"/>
<path d="M442.4 419.6L442 421.7L440.6 420.6Z" fill="#000"/>
<rect x="438" y="423" width="13" height="3.6" rx="0.6" fill="#fff" fill-opacity="0.95" stroke="#666" stroke-width="0.4"/>
<text x="444.5" y="425.9" font-size="3.2" text-anchor="middle" fill="#2b2b2b" textLength="11.4" lengthAdjust="spacingAndGlyphs">MtFIE.2</text>
<rect x="393.6" y="312.4" width="89.1" height="115.4" fill="none" stroke="#303030" stroke-width="1.2"/>
<path d="M410.8 427.8v2.2M438.1 427.8v2.2M465.4 427.8v2.2M393.6 422.7h-2.4M393.6 396.4h-2.4M393.6 370.1h-2.4M393.6 343.8h-2.4M393.6 317.5h-2.4" stroke="#333" stroke-width="0.8" fill="none"/>
<g font-size="5.5" fill="#484848">
<text x="410.8" y="436.2" text-anchor="middle">−10</text><text x="438.1" y="436.2" text-anchor="middle">0</text><text x="465.4" y="436.2" text-anchor="middle">10</text><text x="389.9" y="425.1" text-anchor="end">0</text><text x="389.9" y="398.8" text-anchor="end">50</text><text x="389.9" y="372.5" text-anchor="end">100</text><text x="389.9" y="346.2" text-anchor="end">150</text><text x="389.9" y="319.9" text-anchor="end">200</text>
</g>
<text x="393.5" y="308.5" font-size="5.45" fill="#000">Salt 0h versus 12h</text>
<text x="437.6" y="443.4" font-size="5.85" fill="#222" text-anchor="middle">Log<tspan font-size="3.7" dy="1.2">2</tspan><tspan dy="-1.2"> fold change</tspan></text>
<text transform="translate(375.3 370.1) rotate(-90)" font-size="6.15" fill="#222" text-anchor="middle">−Log<tspan font-size="3.9" dy="0.8">10</tspan><tspan dy="-0.8" font-style="italic"> P</tspan></text>
<circle cx="497.3" cy="363.8" r="2.05" fill="#FE7566"/><text x="503.9" y="365.8" font-size="5.4" fill="#111">Up:5935</text>
<circle cx="497.3" cy="370.5" r="2.15" fill="#0DDCCA"/><text x="503.9" y="372.4" font-size="5.4" fill="#111">Down:6228</text>
<circle cx="497.3" cy="377.1" r="1.9" fill="#BEBEBE"/><text x="503.9" y="379.1" font-size="5.4" fill="#111">Unchange:15752</text>
</g>
</svg>
</body></html>
